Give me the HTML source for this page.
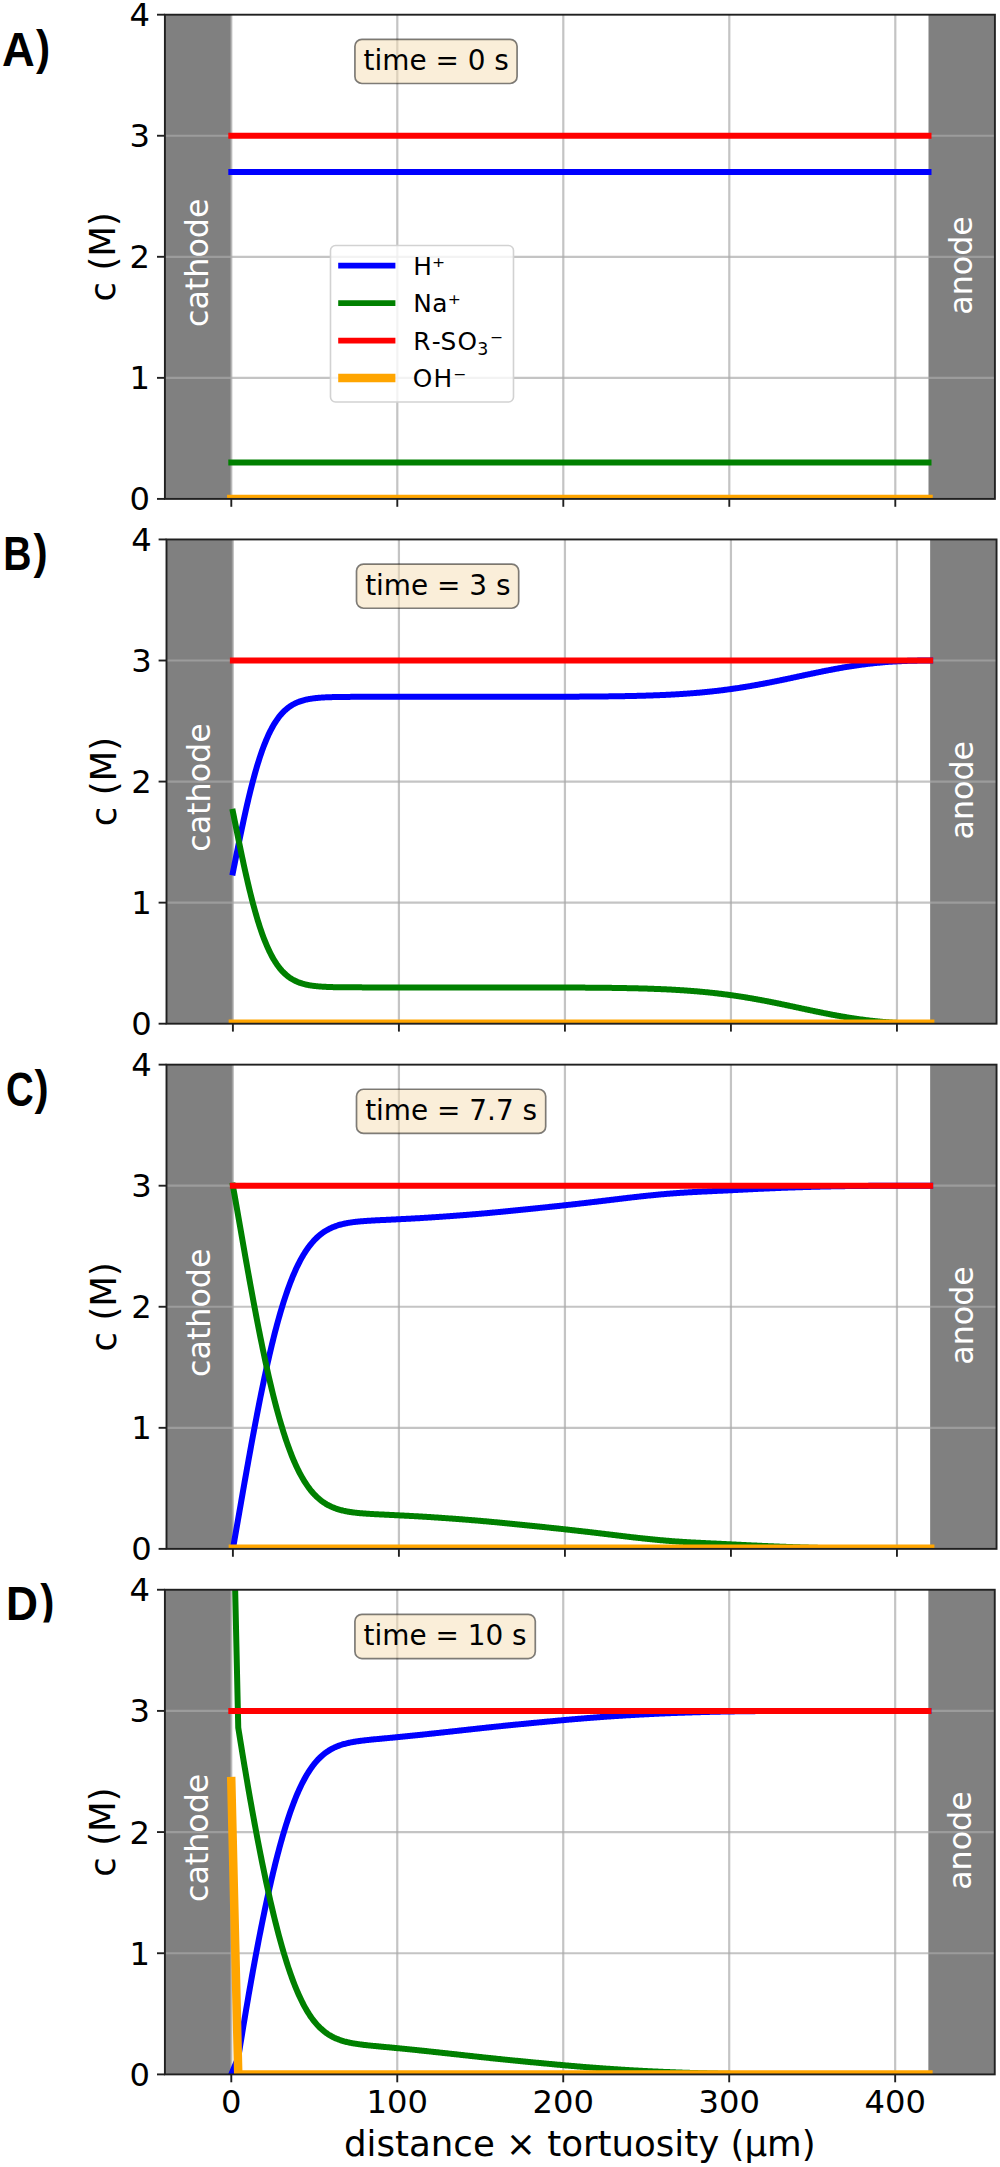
<!DOCTYPE html>
<html><head><meta charset="utf-8"><title>Figure</title>
<style>html,body{margin:0;padding:0;background:#fff}svg{display:block}</style></head>
<body>
<svg width="1000" height="2167" viewBox="0 0 1000 2167" font-family='"DejaVu Sans","Liberation Sans",sans-serif'>
<rect width="1000" height="2167" fill="#fff"/>
<clipPath id="clipD"><rect x="0" y="1560" width="100" height="62.4"/></clipPath>
<clipPath id="clip0"><rect x="164.90" y="14.70" width="830.00" height="484.20"/></clipPath>
<g clip-path="url(#clip0)">
<rect x="164.90" y="14.70" width="66.40" height="484.20" fill="#808080"/>
<rect x="928.50" y="14.70" width="66.40" height="484.20" fill="#808080"/>
<line x1="231.30" x2="231.30" y1="14.70" y2="498.90" stroke="#a9a9a9" stroke-opacity="0.685" stroke-width="2.2"/>
<line x1="397.30" x2="397.30" y1="14.70" y2="498.90" stroke="#a9a9a9" stroke-opacity="0.685" stroke-width="2.2"/>
<line x1="563.30" x2="563.30" y1="14.70" y2="498.90" stroke="#a9a9a9" stroke-opacity="0.685" stroke-width="2.2"/>
<line x1="729.30" x2="729.30" y1="14.70" y2="498.90" stroke="#a9a9a9" stroke-opacity="0.685" stroke-width="2.2"/>
<line x1="895.30" x2="895.30" y1="14.70" y2="498.90" stroke="#a9a9a9" stroke-opacity="0.685" stroke-width="2.2"/>
<line x1="164.90" x2="994.90" y1="377.85" y2="377.85" stroke="#a9a9a9" stroke-opacity="0.685" stroke-width="2.2"/>
<line x1="164.90" x2="994.90" y1="256.80" y2="256.80" stroke="#a9a9a9" stroke-opacity="0.685" stroke-width="2.2"/>
<line x1="164.90" x2="994.90" y1="135.75" y2="135.75" stroke="#a9a9a9" stroke-opacity="0.685" stroke-width="2.2"/>
<path d="M231.30,172.06 L928.50,172.06" fill="none" stroke="#0000ff" stroke-width="6.0" stroke-linecap="square" stroke-linejoin="round"/>
<path d="M231.30,462.58 L928.50,462.58" fill="none" stroke="#008000" stroke-width="6.0" stroke-linecap="square" stroke-linejoin="round"/>
<path d="M231.30,135.75 L928.50,135.75" fill="none" stroke="#ff0000" stroke-width="6.0" stroke-linecap="square" stroke-linejoin="round"/>
<path d="M231.30,498.90 L928.50,498.90" fill="none" stroke="#ffa500" stroke-width="8.5" stroke-linecap="square" stroke-linejoin="round"/>
</g>
<text transform="translate(208.30,262.80) rotate(-90)" text-anchor="middle" font-size="31.7" fill="#fff">cathode</text>
<text transform="translate(971.50,265.50) rotate(-90)" text-anchor="middle" font-size="31.7" fill="#fff">anode</text>
<rect x="164.90" y="14.70" width="830.00" height="484.20" fill="none" stroke="#202020" stroke-width="1.9"/>
<line x1="231.30" x2="231.30" y1="498.90" y2="506.80" stroke="#202020" stroke-width="1.9"/>
<line x1="397.30" x2="397.30" y1="498.90" y2="506.80" stroke="#202020" stroke-width="1.9"/>
<line x1="563.30" x2="563.30" y1="498.90" y2="506.80" stroke="#202020" stroke-width="1.9"/>
<line x1="729.30" x2="729.30" y1="498.90" y2="506.80" stroke="#202020" stroke-width="1.9"/>
<line x1="895.30" x2="895.30" y1="498.90" y2="506.80" stroke="#202020" stroke-width="1.9"/>
<line x1="157.00" x2="164.90" y1="498.90" y2="498.90" stroke="#202020" stroke-width="1.9"/>
<text x="150.10" y="510.40" text-anchor="end" font-size="32.2" fill="#000">0</text>
<line x1="157.00" x2="164.90" y1="377.85" y2="377.85" stroke="#202020" stroke-width="1.9"/>
<text x="150.10" y="389.35" text-anchor="end" font-size="32.2" fill="#000">1</text>
<line x1="157.00" x2="164.90" y1="256.80" y2="256.80" stroke="#202020" stroke-width="1.9"/>
<text x="150.10" y="268.30" text-anchor="end" font-size="32.2" fill="#000">2</text>
<line x1="157.00" x2="164.90" y1="135.75" y2="135.75" stroke="#202020" stroke-width="1.9"/>
<text x="150.10" y="147.25" text-anchor="end" font-size="32.2" fill="#000">3</text>
<line x1="157.00" x2="164.90" y1="14.70" y2="14.70" stroke="#202020" stroke-width="1.9"/>
<text x="150.10" y="26.20" text-anchor="end" font-size="32.2" fill="#000">4</text>
<text transform="translate(114.50,256.80) rotate(-90)" text-anchor="middle" font-size="35.6" fill="#000">c (M)</text>
<g id="tb0"><rect x="354.90" y="39.30" width="162.20" height="44.20" rx="7" ry="7" fill="#f5deb3" fill-opacity="0.5" stroke="#000" stroke-opacity="0.5" stroke-width="1.7"/>
<text x="363.60" y="69.90" font-size="27.9" fill="#000">time = 0 s</text></g>
<g font-family='"Liberation Sans",sans-serif' font-weight="bold" font-size="48.5" fill="#000"><text transform="translate(2.1,66.0) scale(0.935,1)">A</text><text transform="translate(36.0,64.0) scale(0.875,0.985)">)</text></g>
<clipPath id="clip1"><rect x="166.50" y="539.45" width="830.05" height="484.25"/></clipPath>
<g clip-path="url(#clip1)">
<rect x="166.50" y="539.45" width="66.40" height="484.25" fill="#808080"/>
<rect x="930.15" y="539.45" width="66.40" height="484.25" fill="#808080"/>
<line x1="232.90" x2="232.90" y1="539.45" y2="1023.70" stroke="#a9a9a9" stroke-opacity="0.685" stroke-width="2.2"/>
<line x1="398.91" x2="398.91" y1="539.45" y2="1023.70" stroke="#a9a9a9" stroke-opacity="0.685" stroke-width="2.2"/>
<line x1="564.92" x2="564.92" y1="539.45" y2="1023.70" stroke="#a9a9a9" stroke-opacity="0.685" stroke-width="2.2"/>
<line x1="730.93" x2="730.93" y1="539.45" y2="1023.70" stroke="#a9a9a9" stroke-opacity="0.685" stroke-width="2.2"/>
<line x1="896.94" x2="896.94" y1="539.45" y2="1023.70" stroke="#a9a9a9" stroke-opacity="0.685" stroke-width="2.2"/>
<line x1="166.50" x2="996.55" y1="902.64" y2="902.64" stroke="#a9a9a9" stroke-opacity="0.685" stroke-width="2.2"/>
<line x1="166.50" x2="996.55" y1="781.58" y2="781.58" stroke="#a9a9a9" stroke-opacity="0.685" stroke-width="2.2"/>
<line x1="166.50" x2="996.55" y1="660.51" y2="660.51" stroke="#a9a9a9" stroke-opacity="0.685" stroke-width="2.2"/>
<path d="M232.90,872.36 L233.73,868.26 L234.56,864.14 L235.39,860.03 L236.22,855.92 L237.05,851.82 L237.88,847.74 L238.71,843.67 L239.54,839.63 L240.37,835.62 L241.20,831.64 L242.03,827.70 L242.86,823.80 L243.69,819.95 L244.52,816.14 L245.35,812.38 L246.18,808.68 L247.01,805.03 L247.84,801.45 L248.67,797.92 L249.50,794.46 L250.34,791.07 L251.17,787.74 L252.00,784.48 L252.83,781.30 L253.66,778.18 L254.49,775.14 L255.32,772.16 L256.15,769.27 L256.98,766.44 L257.81,763.69 L258.64,761.02 L259.47,758.42 L260.30,755.89 L261.13,753.44 L261.96,751.06 L262.79,748.76 L263.62,746.52 L264.45,744.36 L265.28,742.27 L266.11,740.25 L266.94,738.30 L267.77,736.42 L268.60,734.60 L269.43,732.85 L270.26,731.16 L271.09,729.54 L271.92,727.98 L272.75,726.47 L273.58,725.03 L274.41,723.64 L275.24,722.31 L276.07,721.04 L276.90,719.82 L277.73,718.65 L278.56,717.53 L279.39,716.45 L280.22,715.43 L281.05,714.45 L281.88,713.51 L282.71,712.62 L283.54,711.77 L284.37,710.96 L285.20,710.18 L286.03,709.44 L286.86,708.74 L287.69,708.07 L288.52,707.44 L289.35,706.84 L290.18,706.26 L291.01,705.72 L291.84,705.20 L292.67,704.71 L293.50,704.25 L294.33,703.81 L295.16,703.39 L295.99,703.00 L296.82,702.63 L297.65,702.28 L298.48,701.94 L299.31,701.63 L300.14,701.33 L300.97,701.05 L301.80,700.79 L302.63,700.54 L303.46,700.30 L304.29,700.08 L305.12,699.87 L305.95,699.68 L306.78,699.49 L307.61,699.32 L308.44,699.16 L309.27,699.00 L310.10,698.86 L310.93,698.72 L311.76,698.60 L312.59,698.48 L313.42,698.37 L314.25,698.26 L315.08,698.16 L315.91,698.07 L316.74,697.99 L317.57,697.91 L318.40,697.83 L319.23,697.76 L320.06,697.70 L320.89,697.63 L321.72,697.58 L322.55,697.52 L323.38,697.47 L324.21,697.43 L325.04,697.38 L325.87,697.34 L326.70,697.31 L327.53,697.27 L328.36,697.24 L329.19,697.21 L330.02,697.18 L330.85,697.15 L331.68,697.13 L332.51,697.11 L333.34,697.09 L334.17,697.07 L335.00,697.05 L335.83,697.03 L336.66,697.02 L337.49,697.00 L338.32,696.99 L339.15,696.97 L339.98,696.96 L340.81,696.95 L341.64,696.94 L342.47,696.93 L343.30,696.92 L344.13,696.92 L344.96,696.91 L345.79,696.90 L346.62,696.90 L347.45,696.89 L348.28,696.89 L349.11,696.88 L349.94,696.88 L350.77,696.87 L351.60,696.87 L352.43,696.86 L353.26,696.86 L354.09,696.86 L354.92,696.85 L355.75,696.85 L356.58,696.85 L357.41,696.85 L358.24,696.85 L359.07,696.84 L359.90,696.84 L360.73,696.84 L361.56,696.84 L362.39,696.84 L363.22,696.84 L364.05,696.83 L364.88,696.83 L365.71,696.83 L366.54,696.83 L367.37,696.83 L368.20,696.83 L369.03,696.83 L369.86,696.83 L370.69,696.83 L371.52,696.83 L372.35,696.83 L373.18,696.83 L374.01,696.83 L374.84,696.83 L375.67,696.83 L376.50,696.83 L377.33,696.83 L378.16,696.83 L378.99,696.82 L379.82,696.82 L380.65,696.82 L381.48,696.82 L382.31,696.82 L383.14,696.82 L383.97,696.82 L384.80,696.82 L385.63,696.82 L386.46,696.82 L387.29,696.82 L388.12,696.82 L388.95,696.82 L389.78,696.82 L390.61,696.82 L391.44,696.82 L392.27,696.82 L393.10,696.82 L393.93,696.82 L394.76,696.82 L395.59,696.82 L396.42,696.82 L397.25,696.82 L398.08,696.82 L398.91,696.82 L399.74,696.82 L400.57,696.82 L401.40,696.82 L402.23,696.82 L403.06,696.82 L403.89,696.82 L404.72,696.82 L405.55,696.82 L406.38,696.82 L407.21,696.82 L408.04,696.82 L408.87,696.82 L409.70,696.82 L410.53,696.82 L411.36,696.82 L412.19,696.82 L413.02,696.82 L413.85,696.82 L414.68,696.82 L415.51,696.82 L416.35,696.82 L417.18,696.82 L418.01,696.82 L418.84,696.82 L419.67,696.82 L420.50,696.82 L421.33,696.82 L422.16,696.82 L422.99,696.82 L423.82,696.82 L424.65,696.82 L425.48,696.82 L426.31,696.82 L427.14,696.82 L427.97,696.82 L428.80,696.82 L429.63,696.82 L430.46,696.82 L431.29,696.82 L432.12,696.82 L432.95,696.82 L433.78,696.82 L434.61,696.82 L435.44,696.82 L436.27,696.82 L437.10,696.82 L437.93,696.82 L438.76,696.82 L439.59,696.82 L440.42,696.82 L441.25,696.82 L442.08,696.82 L442.91,696.82 L443.74,696.82 L444.57,696.82 L445.40,696.82 L446.23,696.82 L447.06,696.82 L447.89,696.82 L448.72,696.82 L449.55,696.82 L450.38,696.82 L451.21,696.82 L452.04,696.82 L452.87,696.82 L453.70,696.82 L454.53,696.82 L455.36,696.82 L456.19,696.82 L457.02,696.82 L457.85,696.82 L458.68,696.82 L459.51,696.82 L460.34,696.82 L461.17,696.82 L462.00,696.82 L462.83,696.82 L463.66,696.82 L464.49,696.82 L465.32,696.82 L466.15,696.82 L466.98,696.82 L467.81,696.82 L468.64,696.82 L469.47,696.82 L470.30,696.81 L471.13,696.81 L471.96,696.81 L472.79,696.81 L473.62,696.81 L474.45,696.81 L475.28,696.81 L476.11,696.81 L476.94,696.81 L477.77,696.81 L478.60,696.81 L479.43,696.81 L480.26,696.81 L481.09,696.81 L481.92,696.81 L482.75,696.81 L483.58,696.81 L484.41,696.81 L485.24,696.81 L486.07,696.81 L486.90,696.81 L487.73,696.81 L488.56,696.81 L489.39,696.81 L490.22,696.81 L491.05,696.81 L491.88,696.81 L492.71,696.81 L493.54,696.81 L494.37,696.81 L495.20,696.81 L496.03,696.80 L496.86,696.80 L497.69,696.80 L498.52,696.80 L499.35,696.80 L500.18,696.80 L501.01,696.80 L501.84,696.80 L502.67,696.80 L503.50,696.80 L504.33,696.80 L505.16,696.80 L505.99,696.80 L506.82,696.80 L507.65,696.80 L508.48,696.80 L509.31,696.80 L510.14,696.80 L510.97,696.79 L511.80,696.79 L512.63,696.79 L513.46,696.79 L514.29,696.79 L515.12,696.79 L515.95,696.79 L516.78,696.79 L517.61,696.79 L518.44,696.79 L519.27,696.79 L520.10,696.79 L520.93,696.79 L521.76,696.78 L522.59,696.78 L523.42,696.78 L524.25,696.78 L525.08,696.78 L525.91,696.78 L526.74,696.78 L527.57,696.78 L528.40,696.78 L529.23,696.78 L530.06,696.77 L530.89,696.77 L531.72,696.77 L532.55,696.77 L533.38,696.77 L534.21,696.77 L535.04,696.77 L535.87,696.76 L536.70,696.76 L537.53,696.76 L538.36,696.76 L539.19,696.76 L540.02,696.76 L540.85,696.76 L541.68,696.75 L542.51,696.75 L543.34,696.75 L544.17,696.75 L545.00,696.75 L545.83,696.75 L546.66,696.74 L547.49,696.74 L548.32,696.74 L549.15,696.74 L549.98,696.74 L550.81,696.73 L551.64,696.73 L552.47,696.73 L553.30,696.73 L554.13,696.73 L554.96,696.72 L555.79,696.72 L556.62,696.72 L557.45,696.72 L558.28,696.71 L559.11,696.71 L559.94,696.71 L560.77,696.71 L561.60,696.70 L562.43,696.70 L563.26,696.70 L564.09,696.69 L564.92,696.69 L565.75,696.69 L566.58,696.68 L567.41,696.68 L568.24,696.68 L569.07,696.67 L569.90,696.67 L570.73,696.67 L571.56,696.66 L572.39,696.66 L573.22,696.66 L574.05,696.65 L574.88,696.65 L575.71,696.64 L576.54,696.64 L577.37,696.63 L578.20,696.63 L579.03,696.63 L579.86,696.62 L580.69,696.62 L581.52,696.61 L582.36,696.61 L583.19,696.60 L584.02,696.60 L584.85,696.59 L585.68,696.59 L586.51,696.58 L587.34,696.57 L588.17,696.57 L589.00,696.56 L589.83,696.56 L590.66,696.55 L591.49,696.54 L592.32,696.54 L593.15,696.53 L593.98,696.52 L594.81,696.52 L595.64,696.51 L596.47,696.50 L597.30,696.50 L598.13,696.49 L598.96,696.48 L599.79,696.47 L600.62,696.46 L601.45,696.46 L602.28,696.45 L603.11,696.44 L603.94,696.43 L604.77,696.42 L605.60,696.41 L606.43,696.40 L607.26,696.39 L608.09,696.38 L608.92,696.37 L609.75,696.36 L610.58,696.35 L611.41,696.34 L612.24,696.33 L613.07,696.32 L613.90,696.31 L614.73,696.30 L615.56,696.28 L616.39,696.27 L617.22,696.26 L618.05,696.25 L618.88,696.23 L619.71,696.22 L620.54,696.21 L621.37,696.19 L622.20,696.18 L623.03,696.16 L623.86,696.15 L624.69,696.13 L625.52,696.12 L626.35,696.10 L627.18,696.09 L628.01,696.07 L628.84,696.05 L629.67,696.04 L630.50,696.02 L631.33,696.00 L632.16,695.98 L632.99,695.97 L633.82,695.95 L634.65,695.93 L635.48,695.91 L636.31,695.89 L637.14,695.87 L637.97,695.85 L638.80,695.83 L639.63,695.80 L640.46,695.78 L641.29,695.76 L642.12,695.74 L642.95,695.71 L643.78,695.69 L644.61,695.67 L645.44,695.64 L646.27,695.62 L647.10,695.59 L647.93,695.56 L648.76,695.54 L649.59,695.51 L650.42,695.48 L651.25,695.45 L652.08,695.43 L652.91,695.40 L653.74,695.37 L654.57,695.34 L655.40,695.30 L656.23,695.27 L657.06,695.24 L657.89,695.21 L658.72,695.17 L659.55,695.14 L660.38,695.11 L661.21,695.07 L662.04,695.04 L662.87,695.00 L663.70,694.96 L664.53,694.92 L665.36,694.89 L666.19,694.85 L667.02,694.81 L667.85,694.77 L668.68,694.73 L669.51,694.68 L670.34,694.64 L671.17,694.60 L672.00,694.55 L672.83,694.51 L673.66,694.46 L674.49,694.42 L675.32,694.37 L676.15,694.32 L676.98,694.28 L677.81,694.23 L678.64,694.18 L679.47,694.12 L680.30,694.07 L681.13,694.02 L681.96,693.97 L682.79,693.91 L683.62,693.86 L684.45,693.80 L685.28,693.74 L686.11,693.69 L686.94,693.63 L687.77,693.57 L688.60,693.51 L689.43,693.45 L690.26,693.38 L691.09,693.32 L691.92,693.26 L692.75,693.19 L693.58,693.13 L694.41,693.06 L695.24,692.99 L696.07,692.92 L696.90,692.85 L697.73,692.78 L698.56,692.71 L699.39,692.64 L700.22,692.56 L701.05,692.49 L701.88,692.41 L702.71,692.33 L703.54,692.26 L704.37,692.18 L705.20,692.10 L706.03,692.01 L706.86,691.93 L707.69,691.85 L708.52,691.76 L709.35,691.68 L710.18,691.59 L711.01,691.50 L711.84,691.42 L712.67,691.33 L713.50,691.23 L714.33,691.14 L715.16,691.05 L715.99,690.95 L716.82,690.86 L717.65,690.76 L718.48,690.66 L719.31,690.56 L720.14,690.46 L720.97,690.36 L721.80,690.26 L722.63,690.16 L723.46,690.05 L724.29,689.95 L725.12,689.84 L725.95,689.73 L726.78,689.62 L727.61,689.51 L728.44,689.40 L729.27,689.29 L730.10,689.17 L730.93,689.06 L731.76,688.94 L732.59,688.82 L733.42,688.70 L734.25,688.58 L735.08,688.46 L735.91,688.34 L736.74,688.22 L737.57,688.09 L738.40,687.97 L739.23,687.84 L740.06,687.71 L740.89,687.58 L741.72,687.45 L742.55,687.32 L743.38,687.19 L744.21,687.06 L745.04,686.92 L745.87,686.79 L746.70,686.65 L747.53,686.51 L748.37,686.37 L749.20,686.23 L750.03,686.09 L750.86,685.95 L751.69,685.81 L752.52,685.66 L753.35,685.52 L754.18,685.37 L755.01,685.22 L755.84,685.07 L756.67,684.93 L757.50,684.78 L758.33,684.62 L759.16,684.47 L759.99,684.32 L760.82,684.16 L761.65,684.01 L762.48,683.85 L763.31,683.70 L764.14,683.54 L764.97,683.38 L765.80,683.22 L766.63,683.06 L767.46,682.90 L768.29,682.74 L769.12,682.58 L769.95,682.41 L770.78,682.25 L771.61,682.08 L772.44,681.92 L773.27,681.75 L774.10,681.59 L774.93,681.42 L775.76,681.25 L776.59,681.08 L777.42,680.91 L778.25,680.74 L779.08,680.57 L779.91,680.40 L780.74,680.23 L781.57,680.06 L782.40,679.88 L783.23,679.71 L784.06,679.54 L784.89,679.36 L785.72,679.19 L786.55,679.01 L787.38,678.84 L788.21,678.66 L789.04,678.49 L789.87,678.31 L790.70,678.13 L791.53,677.96 L792.36,677.78 L793.19,677.60 L794.02,677.43 L794.85,677.25 L795.68,677.07 L796.51,676.89 L797.34,676.72 L798.17,676.54 L799.00,676.36 L799.83,676.18 L800.66,676.01 L801.49,675.83 L802.32,675.65 L803.15,675.47 L803.98,675.30 L804.81,675.12 L805.64,674.94 L806.47,674.77 L807.30,674.59 L808.13,674.41 L808.96,674.24 L809.79,674.06 L810.62,673.89 L811.45,673.71 L812.28,673.54 L813.11,673.36 L813.94,673.19 L814.77,673.01 L815.60,672.84 L816.43,672.67 L817.26,672.50 L818.09,672.33 L818.92,672.16 L819.75,671.99 L820.58,671.82 L821.41,671.65 L822.24,671.48 L823.07,671.31 L823.90,671.15 L824.73,670.98 L825.56,670.81 L826.39,670.65 L827.22,670.49 L828.05,670.32 L828.88,670.16 L829.71,670.00 L830.54,669.84 L831.37,669.68 L832.20,669.52 L833.03,669.37 L833.86,669.21 L834.69,669.06 L835.52,668.90 L836.35,668.75 L837.18,668.60 L838.01,668.45 L838.84,668.30 L839.67,668.15 L840.50,668.00 L841.33,667.85 L842.16,667.71 L842.99,667.57 L843.82,667.42 L844.65,667.28 L845.48,667.14 L846.31,667.00 L847.14,666.87 L847.97,666.73 L848.80,666.59 L849.63,666.46 L850.46,666.33 L851.29,666.20 L852.12,666.07 L852.95,665.94 L853.78,665.81 L854.61,665.69 L855.44,665.57 L856.27,665.44 L857.10,665.32 L857.93,665.20 L858.76,665.09 L859.59,664.97 L860.42,664.85 L861.25,664.74 L862.08,664.63 L862.91,664.52 L863.74,664.41 L864.57,664.30 L865.40,664.20 L866.23,664.09 L867.06,663.99 L867.89,663.89 L868.72,663.79 L869.55,663.69 L870.38,663.59 L871.21,663.50 L872.04,663.41 L872.87,663.32 L873.70,663.23 L874.53,663.14 L875.36,663.05 L876.19,662.96 L877.02,662.88 L877.85,662.80 L878.68,662.72 L879.51,662.64 L880.34,662.56 L881.17,662.49 L882.00,662.41 L882.83,662.34 L883.66,662.27 L884.49,662.20 L885.32,662.13 L886.15,662.07 L886.98,662.00 L887.81,661.94 L888.64,661.88 L889.47,661.82 L890.30,661.76 L891.13,661.70 L891.96,661.64 L892.79,661.59 L893.62,661.54 L894.45,661.49 L895.28,661.44 L896.11,661.39 L896.94,661.34 L897.77,661.30 L898.60,661.25 L899.43,661.21 L900.26,661.17 L901.09,661.13 L901.92,661.09 L902.75,661.05 L903.58,661.02 L904.41,660.99 L905.24,660.95 L906.07,660.92 L906.90,660.89 L907.73,660.86 L908.56,660.83 L909.39,660.81 L910.22,660.78 L911.05,660.76 L911.88,660.74 L912.71,660.72 L913.54,660.70 L914.38,660.68 L915.21,660.66 L916.04,660.64 L916.87,660.63 L917.70,660.61 L918.53,660.60 L919.36,660.59 L920.19,660.57 L921.02,660.56 L921.85,660.55 L922.68,660.55 L923.51,660.54 L924.34,660.53 L925.17,660.53 L926.00,660.52 L926.83,660.52 L927.66,660.52 L928.49,660.51 L929.32,660.51 L930.15,660.51" fill="none" stroke="#0000ff" stroke-width="6.0" stroke-linecap="square" stroke-linejoin="round"/>
<path d="M232.90,811.85 L233.73,815.96 L234.56,820.07 L235.39,824.18 L236.22,828.29 L237.05,832.39 L237.88,836.48 L238.71,840.54 L239.54,844.58 L240.37,848.59 L241.20,852.57 L242.03,856.51 L242.86,860.41 L243.69,864.27 L244.52,868.07 L245.35,871.83 L246.18,875.53 L247.01,879.18 L247.84,882.76 L248.67,886.29 L249.50,889.75 L250.34,893.14 L251.17,896.47 L252.00,899.73 L252.83,902.92 L253.66,906.03 L254.49,909.08 L255.32,912.05 L256.15,914.95 L256.98,917.77 L257.81,920.52 L258.64,923.19 L259.47,925.79 L260.30,928.32 L261.13,930.77 L261.96,933.15 L262.79,935.46 L263.62,937.69 L264.45,939.85 L265.28,941.94 L266.11,943.96 L266.94,945.91 L267.77,947.80 L268.60,949.61 L269.43,951.36 L270.26,953.05 L271.09,954.67 L271.92,956.24 L272.75,957.74 L273.58,959.18 L274.41,960.57 L275.24,961.90 L276.07,963.17 L276.90,964.40 L277.73,965.57 L278.56,966.69 L279.39,967.76 L280.22,968.78 L281.05,969.76 L281.88,970.70 L282.71,971.59 L283.54,972.44 L284.37,973.26 L285.20,974.03 L286.03,974.77 L286.86,975.47 L287.69,976.14 L288.52,976.77 L289.35,977.38 L290.18,977.95 L291.01,978.49 L291.84,979.01 L292.67,979.50 L293.50,979.96 L294.33,980.40 L295.16,980.82 L295.99,981.21 L296.82,981.58 L297.65,981.94 L298.48,982.27 L299.31,982.58 L300.14,982.88 L300.97,983.16 L301.80,983.43 L302.63,983.68 L303.46,983.91 L304.29,984.13 L305.12,984.34 L305.95,984.54 L306.78,984.72 L307.61,984.89 L308.44,985.06 L309.27,985.21 L310.10,985.35 L310.93,985.49 L311.76,985.62 L312.59,985.73 L313.42,985.85 L314.25,985.95 L315.08,986.05 L315.91,986.14 L316.74,986.23 L317.57,986.31 L318.40,986.38 L319.23,986.45 L320.06,986.52 L320.89,986.58 L321.72,986.63 L322.55,986.69 L323.38,986.74 L324.21,986.78 L325.04,986.83 L325.87,986.87 L326.70,986.91 L327.53,986.94 L328.36,986.97 L329.19,987.00 L330.02,987.03 L330.85,987.06 L331.68,987.08 L332.51,987.11 L333.34,987.13 L334.17,987.15 L335.00,987.16 L335.83,987.18 L336.66,987.20 L337.49,987.21 L338.32,987.23 L339.15,987.24 L339.98,987.25 L340.81,987.26 L341.64,987.27 L342.47,987.28 L343.30,987.29 L344.13,987.30 L344.96,987.30 L345.79,987.31 L346.62,987.32 L347.45,987.32 L348.28,987.33 L349.11,987.33 L349.94,987.34 L350.77,987.34 L351.60,987.35 L352.43,987.35 L353.26,987.35 L354.09,987.36 L354.92,987.36 L355.75,987.36 L356.58,987.36 L357.41,987.37 L358.24,987.37 L359.07,987.37 L359.90,987.37 L360.73,987.37 L361.56,987.37 L362.39,987.38 L363.22,987.38 L364.05,987.38 L364.88,987.38 L365.71,987.38 L366.54,987.38 L367.37,987.38 L368.20,987.38 L369.03,987.38 L369.86,987.38 L370.69,987.38 L371.52,987.38 L372.35,987.38 L373.18,987.39 L374.01,987.39 L374.84,987.39 L375.67,987.39 L376.50,987.39 L377.33,987.39 L378.16,987.39 L378.99,987.39 L379.82,987.39 L380.65,987.39 L381.48,987.39 L382.31,987.39 L383.14,987.39 L383.97,987.39 L384.80,987.39 L385.63,987.39 L386.46,987.39 L387.29,987.39 L388.12,987.39 L388.95,987.39 L389.78,987.39 L390.61,987.39 L391.44,987.39 L392.27,987.39 L393.10,987.39 L393.93,987.39 L394.76,987.39 L395.59,987.39 L396.42,987.39 L397.25,987.39 L398.08,987.39 L398.91,987.39 L399.74,987.39 L400.57,987.39 L401.40,987.39 L402.23,987.39 L403.06,987.39 L403.89,987.39 L404.72,987.39 L405.55,987.39 L406.38,987.39 L407.21,987.39 L408.04,987.39 L408.87,987.39 L409.70,987.39 L410.53,987.39 L411.36,987.39 L412.19,987.39 L413.02,987.39 L413.85,987.39 L414.68,987.39 L415.51,987.39 L416.35,987.39 L417.18,987.39 L418.01,987.39 L418.84,987.39 L419.67,987.39 L420.50,987.39 L421.33,987.39 L422.16,987.39 L422.99,987.39 L423.82,987.39 L424.65,987.39 L425.48,987.39 L426.31,987.39 L427.14,987.39 L427.97,987.39 L428.80,987.39 L429.63,987.39 L430.46,987.39 L431.29,987.39 L432.12,987.39 L432.95,987.39 L433.78,987.39 L434.61,987.39 L435.44,987.39 L436.27,987.39 L437.10,987.39 L437.93,987.39 L438.76,987.39 L439.59,987.39 L440.42,987.39 L441.25,987.39 L442.08,987.39 L442.91,987.39 L443.74,987.39 L444.57,987.39 L445.40,987.39 L446.23,987.39 L447.06,987.39 L447.89,987.39 L448.72,987.39 L449.55,987.39 L450.38,987.39 L451.21,987.39 L452.04,987.39 L452.87,987.39 L453.70,987.39 L454.53,987.39 L455.36,987.39 L456.19,987.39 L457.02,987.39 L457.85,987.39 L458.68,987.39 L459.51,987.40 L460.34,987.40 L461.17,987.40 L462.00,987.40 L462.83,987.40 L463.66,987.40 L464.49,987.40 L465.32,987.40 L466.15,987.40 L466.98,987.40 L467.81,987.40 L468.64,987.40 L469.47,987.40 L470.30,987.40 L471.13,987.40 L471.96,987.40 L472.79,987.40 L473.62,987.40 L474.45,987.40 L475.28,987.40 L476.11,987.40 L476.94,987.40 L477.77,987.40 L478.60,987.40 L479.43,987.40 L480.26,987.40 L481.09,987.40 L481.92,987.40 L482.75,987.40 L483.58,987.40 L484.41,987.40 L485.24,987.40 L486.07,987.40 L486.90,987.40 L487.73,987.40 L488.56,987.40 L489.39,987.40 L490.22,987.40 L491.05,987.41 L491.88,987.41 L492.71,987.41 L493.54,987.41 L494.37,987.41 L495.20,987.41 L496.03,987.41 L496.86,987.41 L497.69,987.41 L498.52,987.41 L499.35,987.41 L500.18,987.41 L501.01,987.41 L501.84,987.41 L502.67,987.41 L503.50,987.41 L504.33,987.41 L505.16,987.41 L505.99,987.41 L506.82,987.41 L507.65,987.42 L508.48,987.42 L509.31,987.42 L510.14,987.42 L510.97,987.42 L511.80,987.42 L512.63,987.42 L513.46,987.42 L514.29,987.42 L515.12,987.42 L515.95,987.42 L516.78,987.42 L517.61,987.42 L518.44,987.42 L519.27,987.43 L520.10,987.43 L520.93,987.43 L521.76,987.43 L522.59,987.43 L523.42,987.43 L524.25,987.43 L525.08,987.43 L525.91,987.43 L526.74,987.43 L527.57,987.44 L528.40,987.44 L529.23,987.44 L530.06,987.44 L530.89,987.44 L531.72,987.44 L532.55,987.44 L533.38,987.44 L534.21,987.44 L535.04,987.45 L535.87,987.45 L536.70,987.45 L537.53,987.45 L538.36,987.45 L539.19,987.45 L540.02,987.45 L540.85,987.46 L541.68,987.46 L542.51,987.46 L543.34,987.46 L544.17,987.46 L545.00,987.46 L545.83,987.47 L546.66,987.47 L547.49,987.47 L548.32,987.47 L549.15,987.47 L549.98,987.48 L550.81,987.48 L551.64,987.48 L552.47,987.48 L553.30,987.48 L554.13,987.49 L554.96,987.49 L555.79,987.49 L556.62,987.49 L557.45,987.50 L558.28,987.50 L559.11,987.50 L559.94,987.50 L560.77,987.51 L561.60,987.51 L562.43,987.51 L563.26,987.52 L564.09,987.52 L564.92,987.52 L565.75,987.53 L566.58,987.53 L567.41,987.53 L568.24,987.53 L569.07,987.54 L569.90,987.54 L570.73,987.55 L571.56,987.55 L572.39,987.55 L573.22,987.56 L574.05,987.56 L574.88,987.56 L575.71,987.57 L576.54,987.57 L577.37,987.58 L578.20,987.58 L579.03,987.59 L579.86,987.59 L580.69,987.60 L581.52,987.60 L582.36,987.61 L583.19,987.61 L584.02,987.62 L584.85,987.62 L585.68,987.63 L586.51,987.63 L587.34,987.64 L588.17,987.64 L589.00,987.65 L589.83,987.66 L590.66,987.66 L591.49,987.67 L592.32,987.67 L593.15,987.68 L593.98,987.69 L594.81,987.70 L595.64,987.70 L596.47,987.71 L597.30,987.72 L598.13,987.72 L598.96,987.73 L599.79,987.74 L600.62,987.75 L601.45,987.76 L602.28,987.77 L603.11,987.77 L603.94,987.78 L604.77,987.79 L605.60,987.80 L606.43,987.81 L607.26,987.82 L608.09,987.83 L608.92,987.84 L609.75,987.85 L610.58,987.86 L611.41,987.87 L612.24,987.88 L613.07,987.89 L613.90,987.91 L614.73,987.92 L615.56,987.93 L616.39,987.94 L617.22,987.95 L618.05,987.97 L618.88,987.98 L619.71,987.99 L620.54,988.01 L621.37,988.02 L622.20,988.03 L623.03,988.05 L623.86,988.06 L624.69,988.08 L625.52,988.09 L626.35,988.11 L627.18,988.13 L628.01,988.14 L628.84,988.16 L629.67,988.18 L630.50,988.19 L631.33,988.21 L632.16,988.23 L632.99,988.25 L633.82,988.27 L634.65,988.28 L635.48,988.30 L636.31,988.32 L637.14,988.34 L637.97,988.37 L638.80,988.39 L639.63,988.41 L640.46,988.43 L641.29,988.45 L642.12,988.48 L642.95,988.50 L643.78,988.52 L644.61,988.55 L645.44,988.57 L646.27,988.60 L647.10,988.62 L647.93,988.65 L648.76,988.68 L649.59,988.70 L650.42,988.73 L651.25,988.76 L652.08,988.79 L652.91,988.82 L653.74,988.85 L654.57,988.88 L655.40,988.91 L656.23,988.94 L657.06,988.97 L657.89,989.00 L658.72,989.04 L659.55,989.07 L660.38,989.11 L661.21,989.14 L662.04,989.18 L662.87,989.21 L663.70,989.25 L664.53,989.29 L665.36,989.33 L666.19,989.37 L667.02,989.40 L667.85,989.45 L668.68,989.49 L669.51,989.53 L670.34,989.57 L671.17,989.61 L672.00,989.66 L672.83,989.70 L673.66,989.75 L674.49,989.79 L675.32,989.84 L676.15,989.89 L676.98,989.94 L677.81,989.99 L678.64,990.04 L679.47,990.09 L680.30,990.14 L681.13,990.19 L681.96,990.25 L682.79,990.30 L683.62,990.36 L684.45,990.41 L685.28,990.47 L686.11,990.53 L686.94,990.58 L687.77,990.64 L688.60,990.70 L689.43,990.77 L690.26,990.83 L691.09,990.89 L691.92,990.96 L692.75,991.02 L693.58,991.09 L694.41,991.15 L695.24,991.22 L696.07,991.29 L696.90,991.36 L697.73,991.43 L698.56,991.50 L699.39,991.58 L700.22,991.65 L701.05,991.73 L701.88,991.80 L702.71,991.88 L703.54,991.96 L704.37,992.04 L705.20,992.12 L706.03,992.20 L706.86,992.28 L707.69,992.36 L708.52,992.45 L709.35,992.53 L710.18,992.62 L711.01,992.71 L711.84,992.80 L712.67,992.89 L713.50,992.98 L714.33,993.07 L715.16,993.16 L715.99,993.26 L716.82,993.35 L717.65,993.45 L718.48,993.55 L719.31,993.65 L720.14,993.75 L720.97,993.85 L721.80,993.95 L722.63,994.06 L723.46,994.16 L724.29,994.27 L725.12,994.37 L725.95,994.48 L726.78,994.59 L727.61,994.70 L728.44,994.81 L729.27,994.93 L730.10,995.04 L730.93,995.16 L731.76,995.27 L732.59,995.39 L733.42,995.51 L734.25,995.63 L735.08,995.75 L735.91,995.87 L736.74,995.99 L737.57,996.12 L738.40,996.24 L739.23,996.37 L740.06,996.50 L740.89,996.63 L741.72,996.76 L742.55,996.89 L743.38,997.02 L744.21,997.16 L745.04,997.29 L745.87,997.43 L746.70,997.56 L747.53,997.70 L748.37,997.84 L749.20,997.98 L750.03,998.12 L750.86,998.26 L751.69,998.41 L752.52,998.55 L753.35,998.70 L754.18,998.84 L755.01,998.99 L755.84,999.14 L756.67,999.29 L757.50,999.44 L758.33,999.59 L759.16,999.74 L759.99,999.89 L760.82,1000.05 L761.65,1000.20 L762.48,1000.36 L763.31,1000.52 L764.14,1000.67 L764.97,1000.83 L765.80,1000.99 L766.63,1001.15 L767.46,1001.31 L768.29,1001.47 L769.12,1001.64 L769.95,1001.80 L770.78,1001.96 L771.61,1002.13 L772.44,1002.29 L773.27,1002.46 L774.10,1002.63 L774.93,1002.80 L775.76,1002.96 L776.59,1003.13 L777.42,1003.30 L778.25,1003.47 L779.08,1003.64 L779.91,1003.81 L780.74,1003.99 L781.57,1004.16 L782.40,1004.33 L783.23,1004.50 L784.06,1004.68 L784.89,1004.85 L785.72,1005.03 L786.55,1005.20 L787.38,1005.38 L788.21,1005.55 L789.04,1005.73 L789.87,1005.90 L790.70,1006.08 L791.53,1006.26 L792.36,1006.43 L793.19,1006.61 L794.02,1006.79 L794.85,1006.96 L795.68,1007.14 L796.51,1007.32 L797.34,1007.50 L798.17,1007.67 L799.00,1007.85 L799.83,1008.03 L800.66,1008.21 L801.49,1008.38 L802.32,1008.56 L803.15,1008.74 L803.98,1008.92 L804.81,1009.09 L805.64,1009.27 L806.47,1009.45 L807.30,1009.62 L808.13,1009.80 L808.96,1009.98 L809.79,1010.15 L810.62,1010.33 L811.45,1010.50 L812.28,1010.68 L813.11,1010.85 L813.94,1011.02 L814.77,1011.20 L815.60,1011.37 L816.43,1011.54 L817.26,1011.71 L818.09,1011.89 L818.92,1012.06 L819.75,1012.23 L820.58,1012.40 L821.41,1012.56 L822.24,1012.73 L823.07,1012.90 L823.90,1013.07 L824.73,1013.23 L825.56,1013.40 L826.39,1013.56 L827.22,1013.73 L828.05,1013.89 L828.88,1014.05 L829.71,1014.21 L830.54,1014.37 L831.37,1014.53 L832.20,1014.69 L833.03,1014.85 L833.86,1015.00 L834.69,1015.16 L835.52,1015.31 L836.35,1015.46 L837.18,1015.62 L838.01,1015.77 L838.84,1015.92 L839.67,1016.06 L840.50,1016.21 L841.33,1016.36 L842.16,1016.50 L842.99,1016.65 L843.82,1016.79 L844.65,1016.93 L845.48,1017.07 L846.31,1017.21 L847.14,1017.35 L847.97,1017.48 L848.80,1017.62 L849.63,1017.75 L850.46,1017.88 L851.29,1018.01 L852.12,1018.14 L852.95,1018.27 L853.78,1018.40 L854.61,1018.52 L855.44,1018.65 L856.27,1018.77 L857.10,1018.89 L857.93,1019.01 L858.76,1019.13 L859.59,1019.24 L860.42,1019.36 L861.25,1019.47 L862.08,1019.58 L862.91,1019.69 L863.74,1019.80 L864.57,1019.91 L865.40,1020.02 L866.23,1020.12 L867.06,1020.22 L867.89,1020.32 L868.72,1020.42 L869.55,1020.52 L870.38,1020.62 L871.21,1020.71 L872.04,1020.81 L872.87,1020.90 L873.70,1020.99 L874.53,1021.08 L875.36,1021.16 L876.19,1021.25 L877.02,1021.33 L877.85,1021.41 L878.68,1021.49 L879.51,1021.57 L880.34,1021.65 L881.17,1021.73 L882.00,1021.80 L882.83,1021.87 L883.66,1021.94 L884.49,1022.01 L885.32,1022.08 L886.15,1022.15 L886.98,1022.21 L887.81,1022.28 L888.64,1022.34 L889.47,1022.40 L890.30,1022.46 L891.13,1022.51 L891.96,1022.57 L892.79,1022.62 L893.62,1022.68 L894.45,1022.73 L895.28,1022.78 L896.11,1022.82 L896.94,1022.87 L897.77,1022.92 L898.60,1022.96 L899.43,1023.00 L900.26,1023.04 L901.09,1023.08 L901.92,1023.12 L902.75,1023.16 L903.58,1023.19 L904.41,1023.23 L905.24,1023.26 L906.07,1023.29 L906.90,1023.32 L907.73,1023.35 L908.56,1023.38 L909.39,1023.40 L910.22,1023.43 L911.05,1023.45 L911.88,1023.48 L912.71,1023.50 L913.54,1023.52 L914.38,1023.54 L915.21,1023.55 L916.04,1023.57 L916.87,1023.59 L917.70,1023.60 L918.53,1023.61 L919.36,1023.63 L920.19,1023.64 L921.02,1023.65 L921.85,1023.66 L922.68,1023.67 L923.51,1023.67 L924.34,1023.68 L925.17,1023.69 L926.00,1023.69 L926.83,1023.69 L927.66,1023.70 L928.49,1023.70 L929.32,1023.70 L930.15,1023.70" fill="none" stroke="#008000" stroke-width="6.0" stroke-linecap="square" stroke-linejoin="round"/>
<path d="M232.90,660.51 L930.15,660.51" fill="none" stroke="#ff0000" stroke-width="6.0" stroke-linecap="square" stroke-linejoin="round"/>
<path d="M232.90,1023.70 L930.15,1023.70" fill="none" stroke="#ffa500" stroke-width="8.5" stroke-linecap="square" stroke-linejoin="round"/>
</g>
<text transform="translate(209.90,787.55) rotate(-90)" text-anchor="middle" font-size="31.7" fill="#fff">cathode</text>
<text transform="translate(973.15,790.25) rotate(-90)" text-anchor="middle" font-size="31.7" fill="#fff">anode</text>
<rect x="166.50" y="539.45" width="830.05" height="484.25" fill="none" stroke="#202020" stroke-width="1.9"/>
<line x1="232.90" x2="232.90" y1="1023.70" y2="1031.60" stroke="#202020" stroke-width="1.9"/>
<line x1="398.91" x2="398.91" y1="1023.70" y2="1031.60" stroke="#202020" stroke-width="1.9"/>
<line x1="564.92" x2="564.92" y1="1023.70" y2="1031.60" stroke="#202020" stroke-width="1.9"/>
<line x1="730.93" x2="730.93" y1="1023.70" y2="1031.60" stroke="#202020" stroke-width="1.9"/>
<line x1="896.94" x2="896.94" y1="1023.70" y2="1031.60" stroke="#202020" stroke-width="1.9"/>
<line x1="158.60" x2="166.50" y1="1023.70" y2="1023.70" stroke="#202020" stroke-width="1.9"/>
<text x="151.70" y="1035.20" text-anchor="end" font-size="32.2" fill="#000">0</text>
<line x1="158.60" x2="166.50" y1="902.64" y2="902.64" stroke="#202020" stroke-width="1.9"/>
<text x="151.70" y="914.14" text-anchor="end" font-size="32.2" fill="#000">1</text>
<line x1="158.60" x2="166.50" y1="781.58" y2="781.58" stroke="#202020" stroke-width="1.9"/>
<text x="151.70" y="793.08" text-anchor="end" font-size="32.2" fill="#000">2</text>
<line x1="158.60" x2="166.50" y1="660.51" y2="660.51" stroke="#202020" stroke-width="1.9"/>
<text x="151.70" y="672.01" text-anchor="end" font-size="32.2" fill="#000">3</text>
<line x1="158.60" x2="166.50" y1="539.45" y2="539.45" stroke="#202020" stroke-width="1.9"/>
<text x="151.70" y="550.95" text-anchor="end" font-size="32.2" fill="#000">4</text>
<text transform="translate(116.10,781.58) rotate(-90)" text-anchor="middle" font-size="35.6" fill="#000">c (M)</text>
<g id="tb1"><rect x="356.50" y="564.05" width="162.20" height="44.20" rx="7" ry="7" fill="#f5deb3" fill-opacity="0.5" stroke="#000" stroke-opacity="0.5" stroke-width="1.7"/>
<text x="365.20" y="594.65" font-size="27.9" fill="#000">time = 3 s</text></g>
<g font-family='"Liberation Sans",sans-serif' font-weight="bold" font-size="48.5" fill="#000"><text transform="translate(3.3,569.6) scale(0.806,1)">B</text><text transform="translate(33.4,567.6) scale(0.875,0.985)">)</text></g>
<clipPath id="clip2"><rect x="166.50" y="1064.65" width="830.05" height="484.22"/></clipPath>
<g clip-path="url(#clip2)">
<rect x="166.50" y="1064.65" width="66.40" height="484.22" fill="#808080"/>
<rect x="930.15" y="1064.65" width="66.40" height="484.22" fill="#808080"/>
<line x1="232.90" x2="232.90" y1="1064.65" y2="1548.87" stroke="#a9a9a9" stroke-opacity="0.685" stroke-width="2.2"/>
<line x1="398.91" x2="398.91" y1="1064.65" y2="1548.87" stroke="#a9a9a9" stroke-opacity="0.685" stroke-width="2.2"/>
<line x1="564.92" x2="564.92" y1="1064.65" y2="1548.87" stroke="#a9a9a9" stroke-opacity="0.685" stroke-width="2.2"/>
<line x1="730.93" x2="730.93" y1="1064.65" y2="1548.87" stroke="#a9a9a9" stroke-opacity="0.685" stroke-width="2.2"/>
<line x1="896.94" x2="896.94" y1="1064.65" y2="1548.87" stroke="#a9a9a9" stroke-opacity="0.685" stroke-width="2.2"/>
<line x1="166.50" x2="996.55" y1="1427.82" y2="1427.82" stroke="#a9a9a9" stroke-opacity="0.685" stroke-width="2.2"/>
<line x1="166.50" x2="996.55" y1="1306.76" y2="1306.76" stroke="#a9a9a9" stroke-opacity="0.685" stroke-width="2.2"/>
<line x1="166.50" x2="996.55" y1="1185.70" y2="1185.70" stroke="#a9a9a9" stroke-opacity="0.685" stroke-width="2.2"/>
<path d="M232.90,1548.87 L233.73,1544.16 L234.56,1539.44 L235.39,1534.71 L236.22,1529.97 L237.05,1525.22 L237.88,1520.47 L238.71,1515.72 L239.54,1510.97 L240.37,1506.22 L241.20,1501.48 L242.03,1496.74 L242.86,1492.01 L243.69,1487.29 L244.52,1482.59 L245.35,1477.89 L246.18,1473.21 L247.01,1468.55 L247.84,1463.91 L248.67,1459.29 L249.50,1454.69 L250.34,1450.12 L251.17,1445.57 L252.00,1441.06 L252.83,1436.57 L253.66,1432.11 L254.49,1427.68 L255.32,1423.29 L256.15,1418.94 L256.98,1414.62 L257.81,1410.34 L258.64,1406.10 L259.47,1401.91 L260.30,1397.75 L261.13,1393.64 L261.96,1389.57 L262.79,1385.55 L263.62,1381.58 L264.45,1377.65 L265.28,1373.78 L266.11,1369.95 L266.94,1366.18 L267.77,1362.45 L268.60,1358.78 L269.43,1355.16 L270.26,1351.60 L271.09,1348.09 L271.92,1344.63 L272.75,1341.23 L273.58,1337.89 L274.41,1334.60 L275.24,1331.37 L276.07,1328.20 L276.90,1325.08 L277.73,1322.02 L278.56,1319.02 L279.39,1316.08 L280.22,1313.19 L281.05,1310.36 L281.88,1307.59 L282.71,1304.88 L283.54,1302.22 L284.37,1299.63 L285.20,1297.09 L286.03,1294.60 L286.86,1292.17 L287.69,1289.80 L288.52,1287.49 L289.35,1285.23 L290.18,1283.03 L291.01,1280.88 L291.84,1278.78 L292.67,1276.74 L293.50,1274.76 L294.33,1272.82 L295.16,1270.94 L295.99,1269.10 L296.82,1267.32 L297.65,1265.59 L298.48,1263.91 L299.31,1262.28 L300.14,1260.69 L300.97,1259.15 L301.80,1257.66 L302.63,1256.21 L303.46,1254.81 L304.29,1253.45 L305.12,1252.14 L305.95,1250.86 L306.78,1249.63 L307.61,1248.44 L308.44,1247.29 L309.27,1246.18 L310.10,1245.10 L310.93,1244.06 L311.76,1243.06 L312.59,1242.10 L313.42,1241.16 L314.25,1240.27 L315.08,1239.40 L315.91,1238.57 L316.74,1237.76 L317.57,1236.99 L318.40,1236.25 L319.23,1235.53 L320.06,1234.85 L320.89,1234.19 L321.72,1233.56 L322.55,1232.95 L323.38,1232.36 L324.21,1231.80 L325.04,1231.27 L325.87,1230.75 L326.70,1230.26 L327.53,1229.79 L328.36,1229.33 L329.19,1228.90 L330.02,1228.49 L330.85,1228.09 L331.68,1227.71 L332.51,1227.35 L333.34,1227.00 L334.17,1226.67 L335.00,1226.36 L335.83,1226.06 L336.66,1225.77 L337.49,1225.49 L338.32,1225.23 L339.15,1224.98 L339.98,1224.74 L340.81,1224.52 L341.64,1224.30 L342.47,1224.10 L343.30,1223.90 L344.13,1223.71 L344.96,1223.53 L345.79,1223.36 L346.62,1223.20 L347.45,1223.05 L348.28,1222.90 L349.11,1222.76 L349.94,1222.62 L350.77,1222.50 L351.60,1222.38 L352.43,1222.26 L353.26,1222.15 L354.09,1222.04 L354.92,1221.94 L355.75,1221.85 L356.58,1221.75 L357.41,1221.67 L358.24,1221.58 L359.07,1221.50 L359.90,1221.42 L360.73,1221.35 L361.56,1221.28 L362.39,1221.21 L363.22,1221.15 L364.05,1221.08 L364.88,1221.02 L365.71,1220.96 L366.54,1220.90 L367.37,1220.85 L368.20,1220.80 L369.03,1220.74 L369.86,1220.69 L370.69,1220.64 L371.52,1220.59 L372.35,1220.55 L373.18,1220.50 L374.01,1220.46 L374.84,1220.41 L375.67,1220.37 L376.50,1220.33 L377.33,1220.28 L378.16,1220.24 L378.99,1220.20 L379.82,1220.16 L380.65,1220.12 L381.48,1220.08 L382.31,1220.04 L383.14,1220.00 L383.97,1219.96 L384.80,1219.92 L385.63,1219.88 L386.46,1219.84 L387.29,1219.80 L388.12,1219.76 L388.95,1219.72 L389.78,1219.68 L390.61,1219.64 L391.44,1219.60 L392.27,1219.56 L393.10,1219.52 L393.93,1219.48 L394.76,1219.44 L395.59,1219.40 L396.42,1219.36 L397.25,1219.32 L398.08,1219.27 L398.91,1219.23 L399.74,1219.19 L400.57,1219.15 L401.40,1219.11 L402.23,1219.07 L403.06,1219.03 L403.89,1218.98 L404.72,1218.94 L405.55,1218.90 L406.38,1218.86 L407.21,1218.81 L408.04,1218.77 L408.87,1218.72 L409.70,1218.68 L410.53,1218.64 L411.36,1218.59 L412.19,1218.55 L413.02,1218.50 L413.85,1218.46 L414.68,1218.41 L415.51,1218.36 L416.35,1218.32 L417.18,1218.27 L418.01,1218.22 L418.84,1218.17 L419.67,1218.13 L420.50,1218.08 L421.33,1218.03 L422.16,1217.98 L422.99,1217.93 L423.82,1217.88 L424.65,1217.83 L425.48,1217.78 L426.31,1217.73 L427.14,1217.67 L427.97,1217.62 L428.80,1217.57 L429.63,1217.51 L430.46,1217.46 L431.29,1217.41 L432.12,1217.35 L432.95,1217.30 L433.78,1217.24 L434.61,1217.19 L435.44,1217.13 L436.27,1217.08 L437.10,1217.02 L437.93,1216.96 L438.76,1216.91 L439.59,1216.85 L440.42,1216.79 L441.25,1216.73 L442.08,1216.68 L442.91,1216.62 L443.74,1216.56 L444.57,1216.50 L445.40,1216.44 L446.23,1216.38 L447.06,1216.32 L447.89,1216.26 L448.72,1216.20 L449.55,1216.14 L450.38,1216.08 L451.21,1216.02 L452.04,1215.96 L452.87,1215.90 L453.70,1215.84 L454.53,1215.78 L455.36,1215.72 L456.19,1215.66 L457.02,1215.59 L457.85,1215.53 L458.68,1215.47 L459.51,1215.41 L460.34,1215.34 L461.17,1215.28 L462.00,1215.22 L462.83,1215.15 L463.66,1215.09 L464.49,1215.02 L465.32,1214.96 L466.15,1214.89 L466.98,1214.83 L467.81,1214.76 L468.64,1214.70 L469.47,1214.63 L470.30,1214.56 L471.13,1214.49 L471.96,1214.43 L472.79,1214.36 L473.62,1214.29 L474.45,1214.22 L475.28,1214.15 L476.11,1214.08 L476.94,1214.01 L477.77,1213.94 L478.60,1213.87 L479.43,1213.80 L480.26,1213.73 L481.09,1213.66 L481.92,1213.58 L482.75,1213.51 L483.58,1213.44 L484.41,1213.37 L485.24,1213.29 L486.07,1213.22 L486.90,1213.14 L487.73,1213.07 L488.56,1212.99 L489.39,1212.91 L490.22,1212.84 L491.05,1212.76 L491.88,1212.68 L492.71,1212.61 L493.54,1212.53 L494.37,1212.45 L495.20,1212.37 L496.03,1212.29 L496.86,1212.21 L497.69,1212.13 L498.52,1212.05 L499.35,1211.97 L500.18,1211.89 L501.01,1211.81 L501.84,1211.73 L502.67,1211.65 L503.50,1211.57 L504.33,1211.49 L505.16,1211.41 L505.99,1211.33 L506.82,1211.24 L507.65,1211.16 L508.48,1211.08 L509.31,1211.00 L510.14,1210.91 L510.97,1210.83 L511.80,1210.75 L512.63,1210.67 L513.46,1210.58 L514.29,1210.50 L515.12,1210.42 L515.95,1210.33 L516.78,1210.25 L517.61,1210.17 L518.44,1210.08 L519.27,1210.00 L520.10,1209.92 L520.93,1209.83 L521.76,1209.75 L522.59,1209.66 L523.42,1209.58 L524.25,1209.50 L525.08,1209.41 L525.91,1209.33 L526.74,1209.25 L527.57,1209.16 L528.40,1209.08 L529.23,1208.99 L530.06,1208.91 L530.89,1208.82 L531.72,1208.74 L532.55,1208.66 L533.38,1208.57 L534.21,1208.49 L535.04,1208.40 L535.87,1208.32 L536.70,1208.23 L537.53,1208.15 L538.36,1208.06 L539.19,1207.98 L540.02,1207.89 L540.85,1207.81 L541.68,1207.72 L542.51,1207.63 L543.34,1207.55 L544.17,1207.46 L545.00,1207.38 L545.83,1207.29 L546.66,1207.20 L547.49,1207.12 L548.32,1207.03 L549.15,1206.94 L549.98,1206.86 L550.81,1206.77 L551.64,1206.68 L552.47,1206.59 L553.30,1206.51 L554.13,1206.42 L554.96,1206.33 L555.79,1206.24 L556.62,1206.15 L557.45,1206.06 L558.28,1205.97 L559.11,1205.89 L559.94,1205.80 L560.77,1205.71 L561.60,1205.62 L562.43,1205.53 L563.26,1205.44 L564.09,1205.34 L564.92,1205.25 L565.75,1205.16 L566.58,1205.07 L567.41,1204.98 L568.24,1204.89 L569.07,1204.80 L569.90,1204.70 L570.73,1204.61 L571.56,1204.52 L572.39,1204.43 L573.22,1204.33 L574.05,1204.24 L574.88,1204.15 L575.71,1204.05 L576.54,1203.96 L577.37,1203.87 L578.20,1203.77 L579.03,1203.68 L579.86,1203.58 L580.69,1203.49 L581.52,1203.39 L582.36,1203.30 L583.19,1203.20 L584.02,1203.11 L584.85,1203.01 L585.68,1202.91 L586.51,1202.82 L587.34,1202.72 L588.17,1202.62 L589.00,1202.53 L589.83,1202.43 L590.66,1202.33 L591.49,1202.24 L592.32,1202.14 L593.15,1202.04 L593.98,1201.94 L594.81,1201.84 L595.64,1201.75 L596.47,1201.65 L597.30,1201.55 L598.13,1201.45 L598.96,1201.35 L599.79,1201.25 L600.62,1201.15 L601.45,1201.05 L602.28,1200.95 L603.11,1200.85 L603.94,1200.76 L604.77,1200.66 L605.60,1200.56 L606.43,1200.45 L607.26,1200.35 L608.09,1200.25 L608.92,1200.15 L609.75,1200.05 L610.58,1199.95 L611.41,1199.85 L612.24,1199.75 L613.07,1199.65 L613.90,1199.55 L614.73,1199.45 L615.56,1199.35 L616.39,1199.25 L617.22,1199.15 L618.05,1199.05 L618.88,1198.95 L619.71,1198.85 L620.54,1198.75 L621.37,1198.65 L622.20,1198.55 L623.03,1198.45 L623.86,1198.35 L624.69,1198.25 L625.52,1198.15 L626.35,1198.05 L627.18,1197.95 L628.01,1197.85 L628.84,1197.76 L629.67,1197.66 L630.50,1197.56 L631.33,1197.47 L632.16,1197.37 L632.99,1197.27 L633.82,1197.18 L634.65,1197.08 L635.48,1196.99 L636.31,1196.90 L637.14,1196.80 L637.97,1196.71 L638.80,1196.62 L639.63,1196.53 L640.46,1196.43 L641.29,1196.34 L642.12,1196.25 L642.95,1196.16 L643.78,1196.08 L644.61,1195.99 L645.44,1195.90 L646.27,1195.81 L647.10,1195.73 L647.93,1195.64 L648.76,1195.55 L649.59,1195.47 L650.42,1195.39 L651.25,1195.30 L652.08,1195.22 L652.91,1195.14 L653.74,1195.06 L654.57,1194.98 L655.40,1194.90 L656.23,1194.82 L657.06,1194.74 L657.89,1194.66 L658.72,1194.59 L659.55,1194.51 L660.38,1194.43 L661.21,1194.36 L662.04,1194.28 L662.87,1194.21 L663.70,1194.14 L664.53,1194.07 L665.36,1194.00 L666.19,1193.93 L667.02,1193.86 L667.85,1193.79 L668.68,1193.72 L669.51,1193.65 L670.34,1193.59 L671.17,1193.52 L672.00,1193.46 L672.83,1193.39 L673.66,1193.33 L674.49,1193.27 L675.32,1193.21 L676.15,1193.15 L676.98,1193.09 L677.81,1193.03 L678.64,1192.97 L679.47,1192.91 L680.30,1192.86 L681.13,1192.80 L681.96,1192.75 L682.79,1192.69 L683.62,1192.64 L684.45,1192.59 L685.28,1192.53 L686.11,1192.48 L686.94,1192.43 L687.77,1192.38 L688.60,1192.33 L689.43,1192.29 L690.26,1192.24 L691.09,1192.19 L691.92,1192.15 L692.75,1192.10 L693.58,1192.05 L694.41,1192.01 L695.24,1191.96 L696.07,1191.92 L696.90,1191.88 L697.73,1191.83 L698.56,1191.79 L699.39,1191.75 L700.22,1191.71 L701.05,1191.67 L701.88,1191.62 L702.71,1191.58 L703.54,1191.54 L704.37,1191.50 L705.20,1191.46 L706.03,1191.42 L706.86,1191.38 L707.69,1191.34 L708.52,1191.30 L709.35,1191.26 L710.18,1191.22 L711.01,1191.19 L711.84,1191.15 L712.67,1191.11 L713.50,1191.07 L714.33,1191.03 L715.16,1190.99 L715.99,1190.95 L716.82,1190.91 L717.65,1190.87 L718.48,1190.83 L719.31,1190.80 L720.14,1190.76 L720.97,1190.72 L721.80,1190.68 L722.63,1190.64 L723.46,1190.60 L724.29,1190.56 L725.12,1190.52 L725.95,1190.48 L726.78,1190.44 L727.61,1190.40 L728.44,1190.36 L729.27,1190.32 L730.10,1190.28 L730.93,1190.24 L731.76,1190.19 L732.59,1190.15 L733.42,1190.11 L734.25,1190.07 L735.08,1190.03 L735.91,1189.99 L736.74,1189.95 L737.57,1189.90 L738.40,1189.86 L739.23,1189.82 L740.06,1189.78 L740.89,1189.74 L741.72,1189.70 L742.55,1189.65 L743.38,1189.61 L744.21,1189.57 L745.04,1189.53 L745.87,1189.49 L746.70,1189.44 L747.53,1189.40 L748.37,1189.36 L749.20,1189.32 L750.03,1189.28 L750.86,1189.24 L751.69,1189.20 L752.52,1189.15 L753.35,1189.11 L754.18,1189.07 L755.01,1189.03 L755.84,1188.99 L756.67,1188.95 L757.50,1188.91 L758.33,1188.87 L759.16,1188.83 L759.99,1188.80 L760.82,1188.76 L761.65,1188.72 L762.48,1188.68 L763.31,1188.64 L764.14,1188.60 L764.97,1188.57 L765.80,1188.53 L766.63,1188.49 L767.46,1188.46 L768.29,1188.42 L769.12,1188.38 L769.95,1188.35 L770.78,1188.31 L771.61,1188.28 L772.44,1188.24 L773.27,1188.21 L774.10,1188.17 L774.93,1188.14 L775.76,1188.10 L776.59,1188.07 L777.42,1188.04 L778.25,1188.00 L779.08,1187.97 L779.91,1187.94 L780.74,1187.91 L781.57,1187.87 L782.40,1187.84 L783.23,1187.81 L784.06,1187.78 L784.89,1187.75 L785.72,1187.72 L786.55,1187.69 L787.38,1187.65 L788.21,1187.62 L789.04,1187.59 L789.87,1187.56 L790.70,1187.53 L791.53,1187.51 L792.36,1187.48 L793.19,1187.45 L794.02,1187.42 L794.85,1187.39 L795.68,1187.36 L796.51,1187.33 L797.34,1187.31 L798.17,1187.28 L799.00,1187.25 L799.83,1187.22 L800.66,1187.20 L801.49,1187.17 L802.32,1187.14 L803.15,1187.12 L803.98,1187.09 L804.81,1187.07 L805.64,1187.04 L806.47,1187.02 L807.30,1186.99 L808.13,1186.97 L808.96,1186.94 L809.79,1186.92 L810.62,1186.89 L811.45,1186.87 L812.28,1186.85 L813.11,1186.82 L813.94,1186.80 L814.77,1186.78 L815.60,1186.75 L816.43,1186.73 L817.26,1186.71 L818.09,1186.69 L818.92,1186.66 L819.75,1186.64 L820.58,1186.62 L821.41,1186.60 L822.24,1186.58 L823.07,1186.56 L823.90,1186.54 L824.73,1186.52 L825.56,1186.50 L826.39,1186.48 L827.22,1186.46 L828.05,1186.44 L828.88,1186.42 L829.71,1186.41 L830.54,1186.39 L831.37,1186.37 L832.20,1186.35 L833.03,1186.34 L833.86,1186.32 L834.69,1186.30 L835.52,1186.29 L836.35,1186.27 L837.18,1186.26 L838.01,1186.24 L838.84,1186.23 L839.67,1186.21 L840.50,1186.20 L841.33,1186.19 L842.16,1186.17 L842.99,1186.16 L843.82,1186.15 L844.65,1186.13 L845.48,1186.12 L846.31,1186.11 L847.14,1186.10 L847.97,1186.08 L848.80,1186.07 L849.63,1186.06 L850.46,1186.05 L851.29,1186.04 L852.12,1186.03 L852.95,1186.02 L853.78,1186.01 L854.61,1186.00 L855.44,1185.99 L856.27,1185.98 L857.10,1185.97 L857.93,1185.96 L858.76,1185.96 L859.59,1185.95 L860.42,1185.94 L861.25,1185.93 L862.08,1185.92 L862.91,1185.92 L863.74,1185.91 L864.57,1185.90 L865.40,1185.90 L866.23,1185.89 L867.06,1185.88 L867.89,1185.88 L868.72,1185.87 L869.55,1185.87 L870.38,1185.86 L871.21,1185.86 L872.04,1185.85 L872.87,1185.85 L873.70,1185.84 L874.53,1185.84 L875.36,1185.83 L876.19,1185.83 L877.02,1185.82 L877.85,1185.82 L878.68,1185.82 L879.51,1185.81 L880.34,1185.81 L881.17,1185.80 L882.00,1185.80 L882.83,1185.80 L883.66,1185.79 L884.49,1185.79 L885.32,1185.79 L886.15,1185.79 L886.98,1185.78 L887.81,1185.78 L888.64,1185.78 L889.47,1185.77 L890.30,1185.77 L891.13,1185.77 L891.96,1185.77 L892.79,1185.76 L893.62,1185.76 L894.45,1185.76 L895.28,1185.76 L896.11,1185.76 L896.94,1185.75 L897.77,1185.75 L898.60,1185.75 L899.43,1185.75 L900.26,1185.75 L901.09,1185.74 L901.92,1185.74 L902.75,1185.74 L903.58,1185.74 L904.41,1185.74 L905.24,1185.74 L906.07,1185.73 L906.90,1185.73 L907.73,1185.73 L908.56,1185.73 L909.39,1185.73 L910.22,1185.73 L911.05,1185.73 L911.88,1185.72 L912.71,1185.72 L913.54,1185.72 L914.38,1185.72 L915.21,1185.72 L916.04,1185.72 L916.87,1185.72 L917.70,1185.72 L918.53,1185.72 L919.36,1185.72 L920.19,1185.72 L921.02,1185.71 L921.85,1185.71 L922.68,1185.71 L923.51,1185.71 L924.34,1185.71 L925.17,1185.71 L926.00,1185.71 L926.83,1185.71 L927.66,1185.71 L928.49,1185.71 L929.32,1185.71 L930.15,1185.71" fill="none" stroke="#0000ff" stroke-width="6.0" stroke-linecap="square" stroke-linejoin="round"/>
<path d="M232.90,1185.70 L233.73,1190.41 L234.56,1195.14 L235.39,1199.87 L236.22,1204.61 L237.05,1209.35 L237.88,1214.10 L238.71,1218.85 L239.54,1223.60 L240.37,1228.35 L241.20,1233.09 L242.03,1237.83 L242.86,1242.56 L243.69,1247.28 L244.52,1251.99 L245.35,1256.68 L246.18,1261.36 L247.01,1266.02 L247.84,1270.66 L248.67,1275.28 L249.50,1279.88 L250.34,1284.45 L251.17,1289.00 L252.00,1293.52 L252.83,1298.01 L253.66,1302.47 L254.49,1306.89 L255.32,1311.28 L256.15,1315.64 L256.98,1319.95 L257.81,1324.23 L258.64,1328.47 L259.47,1332.67 L260.30,1336.82 L261.13,1340.94 L261.96,1345.00 L262.79,1349.02 L263.62,1353.00 L264.45,1356.92 L265.28,1360.80 L266.11,1364.62 L266.94,1368.40 L267.77,1372.12 L268.60,1375.80 L269.43,1379.41 L270.26,1382.98 L271.09,1386.49 L271.92,1389.94 L272.75,1393.34 L273.58,1396.69 L274.41,1399.97 L275.24,1403.20 L276.07,1406.38 L276.90,1409.50 L277.73,1412.55 L278.56,1415.56 L279.39,1418.50 L280.22,1421.39 L281.05,1424.21 L281.88,1426.98 L282.71,1429.70 L283.54,1432.35 L284.37,1434.95 L285.20,1437.49 L286.03,1439.97 L286.86,1442.40 L287.69,1444.77 L288.52,1447.08 L289.35,1449.34 L290.18,1451.55 L291.01,1453.70 L291.84,1455.79 L292.67,1457.83 L293.50,1459.82 L294.33,1461.75 L295.16,1463.64 L295.99,1465.47 L296.82,1467.25 L297.65,1468.98 L298.48,1470.66 L299.31,1472.30 L300.14,1473.88 L300.97,1475.42 L301.80,1476.92 L302.63,1478.36 L303.46,1479.76 L304.29,1481.12 L305.12,1482.44 L305.95,1483.71 L306.78,1484.94 L307.61,1486.13 L308.44,1487.29 L309.27,1488.40 L310.10,1489.47 L310.93,1490.51 L311.76,1491.51 L312.59,1492.48 L313.42,1493.41 L314.25,1494.31 L315.08,1495.17 L315.91,1496.01 L316.74,1496.81 L317.57,1497.58 L318.40,1498.33 L319.23,1499.04 L320.06,1499.73 L320.89,1500.39 L321.72,1501.02 L322.55,1501.63 L323.38,1502.21 L324.21,1502.77 L325.04,1503.31 L325.87,1503.82 L326.70,1504.32 L327.53,1504.79 L328.36,1505.24 L329.19,1505.67 L330.02,1506.09 L330.85,1506.48 L331.68,1506.86 L332.51,1507.22 L333.34,1507.57 L334.17,1507.90 L335.00,1508.22 L335.83,1508.52 L336.66,1508.81 L337.49,1509.08 L338.32,1509.34 L339.15,1509.59 L339.98,1509.83 L340.81,1510.06 L341.64,1510.27 L342.47,1510.48 L343.30,1510.68 L344.13,1510.86 L344.96,1511.04 L345.79,1511.21 L346.62,1511.37 L347.45,1511.53 L348.28,1511.68 L349.11,1511.82 L349.94,1511.95 L350.77,1512.08 L351.60,1512.20 L352.43,1512.31 L353.26,1512.43 L354.09,1512.53 L354.92,1512.63 L355.75,1512.73 L356.58,1512.82 L357.41,1512.91 L358.24,1512.99 L359.07,1513.07 L359.90,1513.15 L360.73,1513.22 L361.56,1513.30 L362.39,1513.36 L363.22,1513.43 L364.05,1513.49 L364.88,1513.55 L365.71,1513.61 L366.54,1513.67 L367.37,1513.73 L368.20,1513.78 L369.03,1513.83 L369.86,1513.88 L370.69,1513.93 L371.52,1513.98 L372.35,1514.03 L373.18,1514.07 L374.01,1514.12 L374.84,1514.16 L375.67,1514.21 L376.50,1514.25 L377.33,1514.29 L378.16,1514.33 L378.99,1514.38 L379.82,1514.42 L380.65,1514.46 L381.48,1514.50 L382.31,1514.54 L383.14,1514.58 L383.97,1514.62 L384.80,1514.66 L385.63,1514.70 L386.46,1514.74 L387.29,1514.78 L388.12,1514.82 L388.95,1514.86 L389.78,1514.90 L390.61,1514.94 L391.44,1514.98 L392.27,1515.02 L393.10,1515.06 L393.93,1515.10 L394.76,1515.14 L395.59,1515.18 L396.42,1515.22 L397.25,1515.26 L398.08,1515.30 L398.91,1515.34 L399.74,1515.38 L400.57,1515.42 L401.40,1515.47 L402.23,1515.51 L403.06,1515.55 L403.89,1515.59 L404.72,1515.63 L405.55,1515.68 L406.38,1515.72 L407.21,1515.76 L408.04,1515.81 L408.87,1515.85 L409.70,1515.89 L410.53,1515.94 L411.36,1515.98 L412.19,1516.03 L413.02,1516.07 L413.85,1516.12 L414.68,1516.16 L415.51,1516.21 L416.35,1516.26 L417.18,1516.30 L418.01,1516.35 L418.84,1516.40 L419.67,1516.45 L420.50,1516.50 L421.33,1516.55 L422.16,1516.60 L422.99,1516.65 L423.82,1516.70 L424.65,1516.75 L425.48,1516.80 L426.31,1516.85 L427.14,1516.90 L427.97,1516.95 L428.80,1517.01 L429.63,1517.06 L430.46,1517.11 L431.29,1517.17 L432.12,1517.22 L432.95,1517.28 L433.78,1517.33 L434.61,1517.39 L435.44,1517.44 L436.27,1517.50 L437.10,1517.55 L437.93,1517.61 L438.76,1517.67 L439.59,1517.73 L440.42,1517.78 L441.25,1517.84 L442.08,1517.90 L442.91,1517.96 L443.74,1518.01 L444.57,1518.07 L445.40,1518.13 L446.23,1518.19 L447.06,1518.25 L447.89,1518.31 L448.72,1518.37 L449.55,1518.43 L450.38,1518.49 L451.21,1518.55 L452.04,1518.61 L452.87,1518.67 L453.70,1518.73 L454.53,1518.80 L455.36,1518.86 L456.19,1518.92 L457.02,1518.98 L457.85,1519.04 L458.68,1519.11 L459.51,1519.17 L460.34,1519.23 L461.17,1519.30 L462.00,1519.36 L462.83,1519.42 L463.66,1519.49 L464.49,1519.55 L465.32,1519.62 L466.15,1519.68 L466.98,1519.75 L467.81,1519.81 L468.64,1519.88 L469.47,1519.95 L470.30,1520.01 L471.13,1520.08 L471.96,1520.15 L472.79,1520.22 L473.62,1520.28 L474.45,1520.35 L475.28,1520.42 L476.11,1520.49 L476.94,1520.56 L477.77,1520.63 L478.60,1520.70 L479.43,1520.77 L480.26,1520.85 L481.09,1520.92 L481.92,1520.99 L482.75,1521.06 L483.58,1521.14 L484.41,1521.21 L485.24,1521.28 L486.07,1521.36 L486.90,1521.43 L487.73,1521.51 L488.56,1521.58 L489.39,1521.66 L490.22,1521.74 L491.05,1521.81 L491.88,1521.89 L492.71,1521.97 L493.54,1522.05 L494.37,1522.12 L495.20,1522.20 L496.03,1522.28 L496.86,1522.36 L497.69,1522.44 L498.52,1522.52 L499.35,1522.60 L500.18,1522.68 L501.01,1522.76 L501.84,1522.84 L502.67,1522.92 L503.50,1523.00 L504.33,1523.09 L505.16,1523.17 L505.99,1523.25 L506.82,1523.33 L507.65,1523.41 L508.48,1523.50 L509.31,1523.58 L510.14,1523.66 L510.97,1523.74 L511.80,1523.83 L512.63,1523.91 L513.46,1523.99 L514.29,1524.08 L515.12,1524.16 L515.95,1524.24 L516.78,1524.33 L517.61,1524.41 L518.44,1524.49 L519.27,1524.58 L520.10,1524.66 L520.93,1524.74 L521.76,1524.83 L522.59,1524.91 L523.42,1524.99 L524.25,1525.08 L525.08,1525.16 L525.91,1525.25 L526.74,1525.33 L527.57,1525.41 L528.40,1525.50 L529.23,1525.58 L530.06,1525.67 L530.89,1525.75 L531.72,1525.84 L532.55,1525.92 L533.38,1526.00 L534.21,1526.09 L535.04,1526.17 L535.87,1526.26 L536.70,1526.34 L537.53,1526.43 L538.36,1526.51 L539.19,1526.60 L540.02,1526.68 L540.85,1526.77 L541.68,1526.85 L542.51,1526.94 L543.34,1527.03 L544.17,1527.11 L545.00,1527.20 L545.83,1527.28 L546.66,1527.37 L547.49,1527.46 L548.32,1527.54 L549.15,1527.63 L549.98,1527.72 L550.81,1527.81 L551.64,1527.89 L552.47,1527.98 L553.30,1528.07 L554.13,1528.16 L554.96,1528.25 L555.79,1528.33 L556.62,1528.42 L557.45,1528.51 L558.28,1528.60 L559.11,1528.69 L559.94,1528.78 L560.77,1528.87 L561.60,1528.96 L562.43,1529.05 L563.26,1529.14 L564.09,1529.23 L564.92,1529.32 L565.75,1529.41 L566.58,1529.50 L567.41,1529.59 L568.24,1529.69 L569.07,1529.78 L569.90,1529.87 L570.73,1529.96 L571.56,1530.06 L572.39,1530.15 L573.22,1530.24 L574.05,1530.33 L574.88,1530.43 L575.71,1530.52 L576.54,1530.62 L577.37,1530.71 L578.20,1530.80 L579.03,1530.90 L579.86,1530.99 L580.69,1531.09 L581.52,1531.18 L582.36,1531.28 L583.19,1531.37 L584.02,1531.47 L584.85,1531.57 L585.68,1531.66 L586.51,1531.76 L587.34,1531.85 L588.17,1531.95 L589.00,1532.05 L589.83,1532.14 L590.66,1532.24 L591.49,1532.34 L592.32,1532.44 L593.15,1532.53 L593.98,1532.63 L594.81,1532.73 L595.64,1532.83 L596.47,1532.93 L597.30,1533.03 L598.13,1533.12 L598.96,1533.22 L599.79,1533.32 L600.62,1533.42 L601.45,1533.52 L602.28,1533.62 L603.11,1533.72 L603.94,1533.82 L604.77,1533.92 L605.60,1534.02 L606.43,1534.12 L607.26,1534.22 L608.09,1534.32 L608.92,1534.42 L609.75,1534.52 L610.58,1534.62 L611.41,1534.72 L612.24,1534.82 L613.07,1534.92 L613.90,1535.03 L614.73,1535.13 L615.56,1535.23 L616.39,1535.33 L617.22,1535.43 L618.05,1535.53 L618.88,1535.63 L619.71,1535.73 L620.54,1535.83 L621.37,1535.93 L622.20,1536.03 L623.03,1536.13 L623.86,1536.23 L624.69,1536.33 L625.52,1536.43 L626.35,1536.53 L627.18,1536.62 L628.01,1536.72 L628.84,1536.82 L629.67,1536.92 L630.50,1537.01 L631.33,1537.11 L632.16,1537.21 L632.99,1537.30 L633.82,1537.40 L634.65,1537.49 L635.48,1537.59 L636.31,1537.68 L637.14,1537.77 L637.97,1537.87 L638.80,1537.96 L639.63,1538.05 L640.46,1538.14 L641.29,1538.23 L642.12,1538.32 L642.95,1538.41 L643.78,1538.50 L644.61,1538.59 L645.44,1538.68 L646.27,1538.76 L647.10,1538.85 L647.93,1538.93 L648.76,1539.02 L649.59,1539.10 L650.42,1539.19 L651.25,1539.27 L652.08,1539.35 L652.91,1539.44 L653.74,1539.52 L654.57,1539.60 L655.40,1539.68 L656.23,1539.76 L657.06,1539.84 L657.89,1539.91 L658.72,1539.99 L659.55,1540.07 L660.38,1540.14 L661.21,1540.22 L662.04,1540.29 L662.87,1540.36 L663.70,1540.44 L664.53,1540.51 L665.36,1540.58 L666.19,1540.65 L667.02,1540.72 L667.85,1540.79 L668.68,1540.86 L669.51,1540.92 L670.34,1540.99 L671.17,1541.05 L672.00,1541.12 L672.83,1541.18 L673.66,1541.24 L674.49,1541.31 L675.32,1541.37 L676.15,1541.43 L676.98,1541.49 L677.81,1541.55 L678.64,1541.60 L679.47,1541.66 L680.30,1541.72 L681.13,1541.77 L681.96,1541.83 L682.79,1541.88 L683.62,1541.94 L684.45,1541.99 L685.28,1542.04 L686.11,1542.09 L686.94,1542.14 L687.77,1542.19 L688.60,1542.24 L689.43,1542.29 L690.26,1542.34 L691.09,1542.38 L691.92,1542.43 L692.75,1542.48 L693.58,1542.52 L694.41,1542.57 L695.24,1542.61 L696.07,1542.65 L696.90,1542.70 L697.73,1542.74 L698.56,1542.78 L699.39,1542.83 L700.22,1542.87 L701.05,1542.91 L701.88,1542.95 L702.71,1542.99 L703.54,1543.03 L704.37,1543.07 L705.20,1543.11 L706.03,1543.15 L706.86,1543.19 L707.69,1543.23 L708.52,1543.27 L709.35,1543.31 L710.18,1543.35 L711.01,1543.39 L711.84,1543.43 L712.67,1543.47 L713.50,1543.51 L714.33,1543.55 L715.16,1543.58 L715.99,1543.62 L716.82,1543.66 L717.65,1543.70 L718.48,1543.74 L719.31,1543.78 L720.14,1543.82 L720.97,1543.86 L721.80,1543.90 L722.63,1543.94 L723.46,1543.98 L724.29,1544.02 L725.12,1544.06 L725.95,1544.10 L726.78,1544.14 L727.61,1544.18 L728.44,1544.22 L729.27,1544.26 L730.10,1544.30 L730.93,1544.34 L731.76,1544.38 L732.59,1544.42 L733.42,1544.46 L734.25,1544.50 L735.08,1544.55 L735.91,1544.59 L736.74,1544.63 L737.57,1544.67 L738.40,1544.71 L739.23,1544.75 L740.06,1544.80 L740.89,1544.84 L741.72,1544.88 L742.55,1544.92 L743.38,1544.96 L744.21,1545.01 L745.04,1545.05 L745.87,1545.09 L746.70,1545.13 L747.53,1545.17 L748.37,1545.21 L749.20,1545.26 L750.03,1545.30 L750.86,1545.34 L751.69,1545.38 L752.52,1545.42 L753.35,1545.46 L754.18,1545.50 L755.01,1545.54 L755.84,1545.58 L756.67,1545.62 L757.50,1545.66 L758.33,1545.70 L759.16,1545.74 L759.99,1545.78 L760.82,1545.82 L761.65,1545.86 L762.48,1545.90 L763.31,1545.93 L764.14,1545.97 L764.97,1546.01 L765.80,1546.05 L766.63,1546.08 L767.46,1546.12 L768.29,1546.16 L769.12,1546.19 L769.95,1546.23 L770.78,1546.26 L771.61,1546.30 L772.44,1546.33 L773.27,1546.37 L774.10,1546.40 L774.93,1546.44 L775.76,1546.47 L776.59,1546.50 L777.42,1546.54 L778.25,1546.57 L779.08,1546.60 L779.91,1546.64 L780.74,1546.67 L781.57,1546.70 L782.40,1546.73 L783.23,1546.77 L784.06,1546.80 L784.89,1546.83 L785.72,1546.86 L786.55,1546.89 L787.38,1546.92 L788.21,1546.95 L789.04,1546.98 L789.87,1547.01 L790.70,1547.04 L791.53,1547.07 L792.36,1547.10 L793.19,1547.13 L794.02,1547.16 L794.85,1547.18 L795.68,1547.21 L796.51,1547.24 L797.34,1547.27 L798.17,1547.30 L799.00,1547.32 L799.83,1547.35 L800.66,1547.38 L801.49,1547.40 L802.32,1547.43 L803.15,1547.46 L803.98,1547.48 L804.81,1547.51 L805.64,1547.53 L806.47,1547.56 L807.30,1547.58 L808.13,1547.61 L808.96,1547.63 L809.79,1547.66 L810.62,1547.68 L811.45,1547.71 L812.28,1547.73 L813.11,1547.75 L813.94,1547.78 L814.77,1547.80 L815.60,1547.82 L816.43,1547.84 L817.26,1547.87 L818.09,1547.89 L818.92,1547.91 L819.75,1547.93 L820.58,1547.95 L821.41,1547.97 L822.24,1548.00 L823.07,1548.02 L823.90,1548.04 L824.73,1548.06 L825.56,1548.07 L826.39,1548.09 L827.22,1548.11 L828.05,1548.13 L828.88,1548.15 L829.71,1548.17 L830.54,1548.19 L831.37,1548.20 L832.20,1548.22 L833.03,1548.24 L833.86,1548.25 L834.69,1548.27 L835.52,1548.29 L836.35,1548.30 L837.18,1548.32 L838.01,1548.33 L838.84,1548.35 L839.67,1548.36 L840.50,1548.38 L841.33,1548.39 L842.16,1548.40 L842.99,1548.42 L843.82,1548.43 L844.65,1548.44 L845.48,1548.45 L846.31,1548.47 L847.14,1548.48 L847.97,1548.49 L848.80,1548.50 L849.63,1548.51 L850.46,1548.52 L851.29,1548.53 L852.12,1548.54 L852.95,1548.56 L853.78,1548.57 L854.61,1548.57 L855.44,1548.58 L856.27,1548.59 L857.10,1548.60 L857.93,1548.61 L858.76,1548.62 L859.59,1548.63 L860.42,1548.64 L861.25,1548.64 L862.08,1548.65 L862.91,1548.66 L863.74,1548.67 L864.57,1548.67 L865.40,1548.68 L866.23,1548.69 L867.06,1548.69 L867.89,1548.70 L868.72,1548.70 L869.55,1548.71 L870.38,1548.71 L871.21,1548.72 L872.04,1548.72 L872.87,1548.73 L873.70,1548.73 L874.53,1548.74 L875.36,1548.74 L876.19,1548.75 L877.02,1548.75 L877.85,1548.76 L878.68,1548.76 L879.51,1548.76 L880.34,1548.77 L881.17,1548.77 L882.00,1548.77 L882.83,1548.78 L883.66,1548.78 L884.49,1548.78 L885.32,1548.79 L886.15,1548.79 L886.98,1548.79 L887.81,1548.80 L888.64,1548.80 L889.47,1548.80 L890.30,1548.80 L891.13,1548.81 L891.96,1548.81 L892.79,1548.81 L893.62,1548.81 L894.45,1548.81 L895.28,1548.82 L896.11,1548.82 L896.94,1548.82 L897.77,1548.82 L898.60,1548.83 L899.43,1548.83 L900.26,1548.83 L901.09,1548.83 L901.92,1548.83 L902.75,1548.83 L903.58,1548.84 L904.41,1548.84 L905.24,1548.84 L906.07,1548.84 L906.90,1548.84 L907.73,1548.84 L908.56,1548.85 L909.39,1548.85 L910.22,1548.85 L911.05,1548.85 L911.88,1548.85 L912.71,1548.85 L913.54,1548.85 L914.38,1548.85 L915.21,1548.85 L916.04,1548.86 L916.87,1548.86 L917.70,1548.86 L918.53,1548.86 L919.36,1548.86 L920.19,1548.86 L921.02,1548.86 L921.85,1548.86 L922.68,1548.86 L923.51,1548.86 L924.34,1548.86 L925.17,1548.86 L926.00,1548.86 L926.83,1548.86 L927.66,1548.87 L928.49,1548.87 L929.32,1548.87 L930.15,1548.87" fill="none" stroke="#008000" stroke-width="6.0" stroke-linecap="square" stroke-linejoin="round"/>
<path d="M232.90,1185.70 L930.15,1185.70" fill="none" stroke="#ff0000" stroke-width="6.0" stroke-linecap="square" stroke-linejoin="round"/>
<path d="M232.90,1548.87 L930.15,1548.87" fill="none" stroke="#ffa500" stroke-width="8.5" stroke-linecap="square" stroke-linejoin="round"/>
</g>
<text transform="translate(209.90,1312.75) rotate(-90)" text-anchor="middle" font-size="31.7" fill="#fff">cathode</text>
<text transform="translate(973.15,1315.45) rotate(-90)" text-anchor="middle" font-size="31.7" fill="#fff">anode</text>
<rect x="166.50" y="1064.65" width="830.05" height="484.22" fill="none" stroke="#202020" stroke-width="1.9"/>
<line x1="232.90" x2="232.90" y1="1548.87" y2="1556.77" stroke="#202020" stroke-width="1.9"/>
<line x1="398.91" x2="398.91" y1="1548.87" y2="1556.77" stroke="#202020" stroke-width="1.9"/>
<line x1="564.92" x2="564.92" y1="1548.87" y2="1556.77" stroke="#202020" stroke-width="1.9"/>
<line x1="730.93" x2="730.93" y1="1548.87" y2="1556.77" stroke="#202020" stroke-width="1.9"/>
<line x1="896.94" x2="896.94" y1="1548.87" y2="1556.77" stroke="#202020" stroke-width="1.9"/>
<line x1="158.60" x2="166.50" y1="1548.87" y2="1548.87" stroke="#202020" stroke-width="1.9"/>
<text x="151.70" y="1560.37" text-anchor="end" font-size="32.2" fill="#000">0</text>
<line x1="158.60" x2="166.50" y1="1427.82" y2="1427.82" stroke="#202020" stroke-width="1.9"/>
<text x="151.70" y="1439.32" text-anchor="end" font-size="32.2" fill="#000">1</text>
<line x1="158.60" x2="166.50" y1="1306.76" y2="1306.76" stroke="#202020" stroke-width="1.9"/>
<text x="151.70" y="1318.26" text-anchor="end" font-size="32.2" fill="#000">2</text>
<line x1="158.60" x2="166.50" y1="1185.70" y2="1185.70" stroke="#202020" stroke-width="1.9"/>
<text x="151.70" y="1197.20" text-anchor="end" font-size="32.2" fill="#000">3</text>
<line x1="158.60" x2="166.50" y1="1064.65" y2="1064.65" stroke="#202020" stroke-width="1.9"/>
<text x="151.70" y="1076.15" text-anchor="end" font-size="32.2" fill="#000">4</text>
<text transform="translate(116.10,1306.76) rotate(-90)" text-anchor="middle" font-size="35.6" fill="#000">c (M)</text>
<g id="tb2"><rect x="356.50" y="1089.25" width="189.20" height="44.20" rx="7" ry="7" fill="#f5deb3" fill-opacity="0.5" stroke="#000" stroke-opacity="0.5" stroke-width="1.7"/>
<text x="365.20" y="1119.85" font-size="27.9" fill="#000">time = 7.7 s</text></g>
<g font-family='"Liberation Sans",sans-serif' font-weight="bold" font-size="48.5" fill="#000"><text transform="translate(5.9,1106.0) scale(0.79,1)">C</text><text transform="translate(34.6,1104.0) scale(0.875,0.985)">)</text></g>
<clipPath id="clip3"><rect x="164.90" y="1589.75" width="829.85" height="484.65"/></clipPath>
<g clip-path="url(#clip3)">
<rect x="164.90" y="1589.75" width="66.39" height="484.65" fill="#808080"/>
<rect x="928.36" y="1589.75" width="66.39" height="484.65" fill="#808080"/>
<line x1="231.29" x2="231.29" y1="1589.75" y2="2074.40" stroke="#a9a9a9" stroke-opacity="0.685" stroke-width="2.2"/>
<line x1="397.26" x2="397.26" y1="1589.75" y2="2074.40" stroke="#a9a9a9" stroke-opacity="0.685" stroke-width="2.2"/>
<line x1="563.23" x2="563.23" y1="1589.75" y2="2074.40" stroke="#a9a9a9" stroke-opacity="0.685" stroke-width="2.2"/>
<line x1="729.20" x2="729.20" y1="1589.75" y2="2074.40" stroke="#a9a9a9" stroke-opacity="0.685" stroke-width="2.2"/>
<line x1="895.17" x2="895.17" y1="1589.75" y2="2074.40" stroke="#a9a9a9" stroke-opacity="0.685" stroke-width="2.2"/>
<line x1="164.90" x2="994.75" y1="1953.24" y2="1953.24" stroke="#a9a9a9" stroke-opacity="0.685" stroke-width="2.2"/>
<line x1="164.90" x2="994.75" y1="1832.08" y2="1832.08" stroke="#a9a9a9" stroke-opacity="0.685" stroke-width="2.2"/>
<line x1="164.90" x2="994.75" y1="1710.91" y2="1710.91" stroke="#a9a9a9" stroke-opacity="0.685" stroke-width="2.2"/>
<path d="M231.29,2074.40 L238.26,2057.57 L238.76,2054.44 L239.59,2049.25 L240.42,2044.10 L241.25,2038.98 L242.08,2033.91 L242.91,2028.86 L243.74,2023.86 L244.57,2018.89 L245.40,2013.96 L246.23,2009.07 L247.06,2004.21 L247.88,1999.39 L248.71,1994.61 L249.54,1989.87 L250.37,1985.16 L251.20,1980.50 L252.03,1975.87 L252.86,1971.28 L253.69,1966.73 L254.52,1962.22 L255.35,1957.75 L256.18,1953.32 L257.01,1948.94 L257.84,1944.59 L258.67,1940.29 L259.50,1936.03 L260.33,1931.81 L261.16,1927.64 L261.99,1923.51 L262.82,1919.42 L263.65,1915.38 L264.48,1911.39 L265.31,1907.44 L266.14,1903.54 L266.97,1899.68 L267.80,1895.88 L268.63,1892.12 L269.46,1888.41 L270.29,1884.75 L271.12,1881.13 L271.95,1877.57 L272.78,1874.06 L273.61,1870.60 L274.44,1867.18 L275.27,1863.82 L276.10,1860.51 L276.93,1857.26 L277.76,1854.05 L278.59,1850.90 L279.42,1847.80 L280.25,1844.75 L281.08,1841.76 L281.91,1838.82 L282.74,1835.93 L283.57,1833.09 L284.40,1830.31 L285.23,1827.58 L286.06,1824.91 L286.89,1822.29 L287.72,1819.72 L288.55,1817.21 L289.38,1814.75 L290.21,1812.34 L291.04,1809.98 L291.87,1807.68 L292.70,1805.43 L293.53,1803.23 L294.36,1801.08 L295.19,1798.99 L296.02,1796.95 L296.85,1794.95 L297.68,1793.01 L298.51,1791.12 L299.34,1789.28 L300.17,1787.48 L301.00,1785.74 L301.83,1784.04 L302.66,1782.39 L303.48,1780.79 L304.31,1779.23 L305.14,1777.72 L305.97,1776.26 L306.80,1774.83 L307.63,1773.46 L308.46,1772.12 L309.29,1770.83 L310.12,1769.58 L310.95,1768.36 L311.78,1767.19 L312.61,1766.06 L313.44,1764.97 L314.27,1763.91 L315.10,1762.89 L315.93,1761.91 L316.76,1760.96 L317.59,1760.05 L318.42,1759.17 L319.25,1758.32 L320.08,1757.50 L320.91,1756.72 L321.74,1755.96 L322.57,1755.23 L323.40,1754.53 L324.23,1753.86 L325.06,1753.22 L325.89,1752.60 L326.72,1752.01 L327.55,1751.44 L328.38,1750.89 L329.21,1750.37 L330.04,1749.87 L330.87,1749.39 L331.70,1748.93 L332.53,1748.49 L333.36,1748.07 L334.19,1747.67 L335.02,1747.28 L335.85,1746.91 L336.68,1746.56 L337.51,1746.22 L338.34,1745.90 L339.17,1745.59 L340.00,1745.29 L340.83,1745.01 L341.66,1744.74 L342.49,1744.48 L343.32,1744.23 L344.15,1744.00 L344.98,1743.77 L345.81,1743.55 L346.64,1743.35 L347.47,1743.15 L348.30,1742.96 L349.13,1742.77 L349.96,1742.60 L350.79,1742.43 L351.62,1742.27 L352.45,1742.11 L353.28,1741.96 L354.11,1741.82 L354.94,1741.68 L355.77,1741.54 L356.60,1741.41 L357.43,1741.29 L358.26,1741.17 L359.08,1741.05 L359.91,1740.94 L360.74,1740.83 L361.57,1740.72 L362.40,1740.61 L363.23,1740.51 L364.06,1740.41 L364.89,1740.32 L365.72,1740.22 L366.55,1740.13 L367.38,1740.04 L368.21,1739.95 L369.04,1739.86 L369.87,1739.78 L370.70,1739.69 L371.53,1739.61 L372.36,1739.52 L373.19,1739.44 L374.02,1739.36 L374.85,1739.28 L375.68,1739.20 L376.51,1739.12 L377.34,1739.04 L378.17,1738.96 L379.00,1738.89 L379.83,1738.81 L380.66,1738.73 L381.49,1738.65 L382.32,1738.58 L383.15,1738.50 L383.98,1738.42 L384.81,1738.35 L385.64,1738.27 L386.47,1738.19 L387.30,1738.12 L388.13,1738.04 L388.96,1737.96 L389.79,1737.88 L390.62,1737.81 L391.45,1737.73 L392.28,1737.65 L393.11,1737.57 L393.94,1737.49 L394.77,1737.41 L395.60,1737.33 L396.43,1737.25 L397.26,1737.17 L398.09,1737.09 L398.92,1737.01 L399.75,1736.93 L400.58,1736.85 L401.41,1736.77 L402.24,1736.69 L403.07,1736.61 L403.90,1736.53 L404.73,1736.44 L405.56,1736.36 L406.39,1736.28 L407.22,1736.19 L408.05,1736.11 L408.88,1736.03 L409.71,1735.94 L410.54,1735.86 L411.37,1735.77 L412.20,1735.69 L413.03,1735.60 L413.86,1735.52 L414.68,1735.43 L415.51,1735.35 L416.34,1735.26 L417.17,1735.17 L418.00,1735.09 L418.83,1735.00 L419.66,1734.91 L420.49,1734.83 L421.32,1734.74 L422.15,1734.65 L422.98,1734.56 L423.81,1734.48 L424.64,1734.39 L425.47,1734.30 L426.30,1734.21 L427.13,1734.12 L427.96,1734.03 L428.79,1733.94 L429.62,1733.86 L430.45,1733.77 L431.28,1733.68 L432.11,1733.59 L432.94,1733.50 L433.77,1733.41 L434.60,1733.32 L435.43,1733.23 L436.26,1733.14 L437.09,1733.05 L437.92,1732.96 L438.75,1732.87 L439.58,1732.78 L440.41,1732.69 L441.24,1732.60 L442.07,1732.51 L442.90,1732.41 L443.73,1732.32 L444.56,1732.23 L445.39,1732.14 L446.22,1732.05 L447.05,1731.96 L447.88,1731.87 L448.71,1731.78 L449.54,1731.69 L450.37,1731.60 L451.20,1731.51 L452.03,1731.41 L452.86,1731.32 L453.69,1731.23 L454.52,1731.14 L455.35,1731.05 L456.18,1730.96 L457.01,1730.87 L457.84,1730.78 L458.67,1730.68 L459.50,1730.59 L460.33,1730.50 L461.16,1730.41 L461.99,1730.32 L462.82,1730.23 L463.65,1730.14 L464.48,1730.04 L465.31,1729.95 L466.14,1729.86 L466.97,1729.77 L467.80,1729.68 L468.63,1729.59 L469.45,1729.50 L470.28,1729.41 L471.11,1729.31 L471.94,1729.22 L472.77,1729.13 L473.60,1729.04 L474.43,1728.95 L475.26,1728.86 L476.09,1728.77 L476.92,1728.68 L477.75,1728.59 L478.58,1728.50 L479.41,1728.41 L480.24,1728.32 L481.07,1728.22 L481.90,1728.13 L482.73,1728.04 L483.56,1727.95 L484.39,1727.87 L485.22,1727.78 L486.05,1727.69 L486.88,1727.60 L487.71,1727.51 L488.54,1727.42 L489.37,1727.33 L490.20,1727.24 L491.03,1727.15 L491.86,1727.07 L492.69,1726.98 L493.52,1726.89 L494.35,1726.80 L495.18,1726.72 L496.01,1726.63 L496.84,1726.54 L497.67,1726.46 L498.50,1726.37 L499.33,1726.28 L500.16,1726.20 L500.99,1726.11 L501.82,1726.03 L502.65,1725.94 L503.48,1725.86 L504.31,1725.77 L505.14,1725.69 L505.97,1725.60 L506.80,1725.52 L507.63,1725.44 L508.46,1725.35 L509.29,1725.27 L510.12,1725.19 L510.95,1725.11 L511.78,1725.02 L512.61,1724.94 L513.44,1724.86 L514.27,1724.78 L515.10,1724.69 L515.93,1724.61 L516.76,1724.53 L517.59,1724.45 L518.42,1724.37 L519.25,1724.29 L520.08,1724.21 L520.91,1724.13 L521.74,1724.05 L522.57,1723.97 L523.40,1723.89 L524.23,1723.81 L525.05,1723.73 L525.88,1723.65 L526.71,1723.57 L527.54,1723.49 L528.37,1723.41 L529.20,1723.33 L530.03,1723.25 L530.86,1723.17 L531.69,1723.09 L532.52,1723.01 L533.35,1722.93 L534.18,1722.85 L535.01,1722.78 L535.84,1722.70 L536.67,1722.62 L537.50,1722.54 L538.33,1722.46 L539.16,1722.38 L539.99,1722.30 L540.82,1722.23 L541.65,1722.15 L542.48,1722.07 L543.31,1721.99 L544.14,1721.91 L544.97,1721.83 L545.80,1721.76 L546.63,1721.68 L547.46,1721.60 L548.29,1721.52 L549.12,1721.45 L549.95,1721.37 L550.78,1721.29 L551.61,1721.21 L552.44,1721.14 L553.27,1721.06 L554.10,1720.98 L554.93,1720.91 L555.76,1720.83 L556.59,1720.75 L557.42,1720.68 L558.25,1720.60 L559.08,1720.52 L559.91,1720.45 L560.74,1720.37 L561.57,1720.30 L562.40,1720.22 L563.23,1720.15 L564.06,1720.07 L564.89,1720.00 L565.72,1719.92 L566.55,1719.85 L567.38,1719.78 L568.21,1719.70 L569.04,1719.63 L569.87,1719.56 L570.70,1719.49 L571.53,1719.41 L572.36,1719.34 L573.19,1719.27 L574.02,1719.20 L574.85,1719.13 L575.68,1719.06 L576.51,1718.99 L577.34,1718.92 L578.17,1718.85 L579.00,1718.78 L579.83,1718.71 L580.65,1718.64 L581.48,1718.58 L582.31,1718.51 L583.14,1718.44 L583.97,1718.37 L584.80,1718.31 L585.63,1718.24 L586.46,1718.17 L587.29,1718.11 L588.12,1718.04 L588.95,1717.98 L589.78,1717.91 L590.61,1717.85 L591.44,1717.79 L592.27,1717.72 L593.10,1717.66 L593.93,1717.59 L594.76,1717.53 L595.59,1717.47 L596.42,1717.41 L597.25,1717.35 L598.08,1717.28 L598.91,1717.22 L599.74,1717.16 L600.57,1717.10 L601.40,1717.04 L602.23,1716.98 L603.06,1716.92 L603.89,1716.86 L604.72,1716.80 L605.55,1716.74 L606.38,1716.69 L607.21,1716.63 L608.04,1716.57 L608.87,1716.51 L609.70,1716.46 L610.53,1716.40 L611.36,1716.34 L612.19,1716.29 L613.02,1716.23 L613.85,1716.18 L614.68,1716.12 L615.51,1716.07 L616.34,1716.01 L617.17,1715.96 L618.00,1715.91 L618.83,1715.85 L619.66,1715.80 L620.49,1715.75 L621.32,1715.69 L622.15,1715.64 L622.98,1715.59 L623.81,1715.54 L624.64,1715.49 L625.47,1715.44 L626.30,1715.38 L627.13,1715.33 L627.96,1715.28 L628.79,1715.23 L629.62,1715.19 L630.45,1715.14 L631.28,1715.09 L632.11,1715.04 L632.94,1714.99 L633.77,1714.94 L634.60,1714.90 L635.42,1714.85 L636.25,1714.80 L637.08,1714.75 L637.91,1714.71 L638.74,1714.66 L639.57,1714.62 L640.40,1714.57 L641.23,1714.53 L642.06,1714.48 L642.89,1714.44 L643.72,1714.39 L644.55,1714.35 L645.38,1714.31 L646.21,1714.26 L647.04,1714.22 L647.87,1714.18 L648.70,1714.14 L649.53,1714.09 L650.36,1714.05 L651.19,1714.01 L652.02,1713.97 L652.85,1713.93 L653.68,1713.89 L654.51,1713.85 L655.34,1713.81 L656.17,1713.77 L657.00,1713.73 L657.83,1713.70 L658.66,1713.66 L659.49,1713.62 L660.32,1713.58 L661.15,1713.54 L661.98,1713.51 L662.81,1713.47 L663.64,1713.44 L664.47,1713.40 L665.30,1713.36 L666.13,1713.33 L666.96,1713.29 L667.79,1713.26 L668.62,1713.22 L669.45,1713.19 L670.28,1713.16 L671.11,1713.12 L671.94,1713.09 L672.77,1713.06 L673.60,1713.02 L674.43,1712.99 L675.26,1712.96 L676.09,1712.93 L676.92,1712.90 L677.75,1712.87 L678.58,1712.83 L679.41,1712.80 L680.24,1712.77 L681.07,1712.74 L681.90,1712.71 L682.73,1712.68 L683.56,1712.66 L684.39,1712.63 L685.22,1712.60 L686.05,1712.57 L686.88,1712.54 L687.71,1712.51 L688.54,1712.49 L689.37,1712.46 L690.20,1712.43 L691.02,1712.41 L691.85,1712.38 L692.68,1712.35 L693.51,1712.33 L694.34,1712.30 L695.17,1712.28 L696.00,1712.25 L696.83,1712.23 L697.66,1712.20 L698.49,1712.18 L699.32,1712.16 L700.15,1712.13 L700.98,1712.11 L701.81,1712.09 L702.64,1712.06 L703.47,1712.04 L704.30,1712.02 L705.13,1712.00 L705.96,1711.97 L706.79,1711.95 L707.62,1711.93 L708.45,1711.91 L709.28,1711.89 L710.11,1711.87 L710.94,1711.85 L711.77,1711.83 L712.60,1711.81 L713.43,1711.79 L714.26,1711.77 L715.09,1711.75 L715.92,1711.73 L716.75,1711.71 L717.58,1711.69 L718.41,1711.67 L719.24,1711.66 L720.07,1711.64 L720.90,1711.62 L721.73,1711.60 L722.56,1711.59 L723.39,1711.57 L724.22,1711.55 L725.05,1711.54 L725.88,1711.52 L726.71,1711.51 L727.54,1711.49 L728.37,1711.48 L729.20,1711.46 L730.03,1711.45 L730.86,1711.43 L731.69,1711.42 L732.52,1711.41 L733.35,1711.39 L734.18,1711.38 L735.01,1711.37 L735.84,1711.36 L736.67,1711.34 L737.50,1711.33 L738.33,1711.32 L739.16,1711.31 L739.99,1711.30 L740.82,1711.29 L741.65,1711.27 L742.48,1711.26 L743.31,1711.25 L744.14,1711.24 L744.97,1711.23 L745.79,1711.22 L746.62,1711.21 L747.45,1711.21 L748.28,1711.20 L749.11,1711.19 L749.94,1711.18 L750.77,1711.17 L751.60,1711.16 L752.43,1711.15 L753.26,1711.15 L754.09,1711.14 L754.92,1711.13 L755.75,1711.12 L756.58,1711.12 L757.41,1711.11 L758.24,1711.10 L759.07,1711.10 L759.90,1711.09 L760.73,1711.08 L761.56,1711.08 L762.39,1711.07 L763.22,1711.07 L764.05,1711.06 L764.88,1711.06 L765.71,1711.05 L766.54,1711.05 L767.37,1711.04 L768.20,1711.04 L769.03,1711.03 L769.86,1711.03 L770.69,1711.02 L771.52,1711.02 L772.35,1711.02 L773.18,1711.01 L774.01,1711.01 L774.84,1711.01 L775.67,1711.00 L776.50,1711.00 L777.33,1711.00 L778.16,1710.99 L778.99,1710.99 L779.82,1710.99 L780.65,1710.99 L781.48,1710.98 L782.31,1710.98 L783.14,1710.98 L783.97,1710.98 L784.80,1710.98 L785.63,1710.98 L786.46,1710.97 L787.29,1710.97 L788.12,1710.97 L788.95,1710.97 L789.78,1710.97 L790.61,1710.97 L791.44,1710.97 L792.27,1710.96 L793.10,1710.96 L793.93,1710.96 L794.76,1710.96 L795.59,1710.96 L796.42,1710.96 L797.25,1710.96 L798.08,1710.96 L798.91,1710.96 L799.74,1710.96 L800.57,1710.96 L801.39,1710.96 L802.22,1710.95 L803.05,1710.95 L803.88,1710.95 L804.71,1710.95 L805.54,1710.95 L806.37,1710.95 L807.20,1710.95 L808.03,1710.95 L808.86,1710.95 L809.69,1710.95 L810.52,1710.95 L811.35,1710.95 L812.18,1710.95 L813.01,1710.95 L813.84,1710.95 L814.67,1710.95 L815.50,1710.95 L816.33,1710.94 L817.16,1710.94 L817.99,1710.94 L818.82,1710.94 L819.65,1710.94 L820.48,1710.94 L821.31,1710.94 L822.14,1710.94 L822.97,1710.94 L823.80,1710.94 L824.63,1710.94 L825.46,1710.94 L826.29,1710.94 L827.12,1710.94 L827.95,1710.94 L828.78,1710.94 L829.61,1710.94 L830.44,1710.94 L831.27,1710.94 L832.10,1710.94 L832.93,1710.94 L833.76,1710.93 L834.59,1710.93 L835.42,1710.93 L836.25,1710.93 L837.08,1710.93 L837.91,1710.93 L838.74,1710.93 L839.57,1710.93 L840.40,1710.93 L841.23,1710.93 L842.06,1710.93 L842.89,1710.93 L843.72,1710.93 L844.55,1710.93 L845.38,1710.93 L846.21,1710.93 L847.04,1710.93 L847.87,1710.93 L848.70,1710.93 L849.53,1710.93 L850.36,1710.93 L851.19,1710.93 L852.02,1710.93 L852.85,1710.93 L853.68,1710.93 L854.51,1710.93 L855.34,1710.93 L856.17,1710.93 L856.99,1710.92 L857.82,1710.92 L858.65,1710.92 L859.48,1710.92 L860.31,1710.92 L861.14,1710.92 L861.97,1710.92 L862.80,1710.92 L863.63,1710.92 L864.46,1710.92 L865.29,1710.92 L866.12,1710.92 L866.95,1710.92 L867.78,1710.92 L868.61,1710.92 L869.44,1710.92 L870.27,1710.92 L871.10,1710.92 L871.93,1710.92 L872.76,1710.92 L873.59,1710.92 L874.42,1710.92 L875.25,1710.92 L876.08,1710.92 L876.91,1710.92 L877.74,1710.92 L878.57,1710.92 L879.40,1710.92 L880.23,1710.92 L881.06,1710.92 L881.89,1710.92 L882.72,1710.92 L883.55,1710.92 L884.38,1710.92 L885.21,1710.92 L886.04,1710.92 L886.87,1710.92 L887.70,1710.92 L888.53,1710.92 L889.36,1710.92 L890.19,1710.92 L891.02,1710.92 L891.85,1710.92 L892.68,1710.92 L893.51,1710.92 L894.34,1710.92 L895.17,1710.92 L896.00,1710.92 L896.83,1710.91 L897.66,1710.91 L898.49,1710.91 L899.32,1710.91 L900.15,1710.91 L900.98,1710.91 L901.81,1710.91 L902.64,1710.91 L903.47,1710.91 L904.30,1710.91 L905.13,1710.91 L905.96,1710.91 L906.79,1710.91 L907.62,1710.91 L908.45,1710.91 L909.28,1710.91 L910.11,1710.91 L910.94,1710.91 L911.76,1710.91 L912.59,1710.91 L913.42,1710.91 L914.25,1710.91 L915.08,1710.91 L915.91,1710.91 L916.74,1710.91 L917.57,1710.91 L918.40,1710.91 L919.23,1710.91 L920.06,1710.91 L920.89,1710.91 L921.72,1710.91 L922.55,1710.91 L923.38,1710.91 L924.21,1710.91 L925.04,1710.91 L925.87,1710.91 L926.70,1710.91 L927.53,1710.91 L928.36,1710.91" fill="none" stroke="#0000ff" stroke-width="6.0" stroke-linecap="square" stroke-linejoin="round"/>
<path d="M231.29,1417.70 L238.26,1727.74 L238.76,1730.87 L239.59,1736.06 L240.42,1741.21 L241.25,1746.33 L242.08,1751.41 L242.91,1756.45 L243.74,1761.45 L244.57,1766.42 L245.40,1771.35 L246.23,1776.24 L247.06,1781.10 L247.88,1785.92 L248.71,1790.70 L249.54,1795.44 L250.37,1800.15 L251.20,1804.82 L252.03,1809.44 L252.86,1814.03 L253.69,1818.58 L254.52,1823.09 L255.35,1827.56 L256.18,1831.99 L257.01,1836.38 L257.84,1840.72 L258.67,1845.02 L259.50,1849.28 L260.33,1853.50 L261.16,1857.67 L261.99,1861.80 L262.82,1865.89 L263.65,1869.93 L264.48,1873.92 L265.31,1877.87 L266.14,1881.77 L266.97,1885.63 L267.80,1889.43 L268.63,1893.19 L269.46,1896.90 L270.29,1900.57 L271.12,1904.18 L271.95,1907.74 L272.78,1911.26 L273.61,1914.72 L274.44,1918.13 L275.27,1921.49 L276.10,1924.80 L276.93,1928.06 L277.76,1931.26 L278.59,1934.41 L279.42,1937.51 L280.25,1940.56 L281.08,1943.55 L281.91,1946.50 L282.74,1949.38 L283.57,1952.22 L284.40,1955.00 L285.23,1957.73 L286.06,1960.40 L286.89,1963.02 L287.72,1965.59 L288.55,1968.11 L289.38,1970.57 L290.21,1972.98 L291.04,1975.33 L291.87,1977.63 L292.70,1979.88 L293.53,1982.08 L294.36,1984.23 L295.19,1986.32 L296.02,1988.37 L296.85,1990.36 L297.68,1992.30 L298.51,1994.19 L299.34,1996.04 L300.17,1997.83 L301.00,1999.57 L301.83,2001.27 L302.66,2002.92 L303.48,2004.52 L304.31,2006.08 L305.14,2007.59 L305.97,2009.06 L306.80,2010.48 L307.63,2011.86 L308.46,2013.19 L309.29,2014.49 L310.12,2015.74 L310.95,2016.95 L311.78,2018.12 L312.61,2019.25 L313.44,2020.34 L314.27,2021.40 L315.10,2022.42 L315.93,2023.40 L316.76,2024.35 L317.59,2025.27 L318.42,2026.15 L319.25,2027.00 L320.08,2027.81 L320.91,2028.60 L321.74,2029.35 L322.57,2030.08 L323.40,2030.78 L324.23,2031.45 L325.06,2032.09 L325.89,2032.71 L326.72,2033.30 L327.55,2033.87 L328.38,2034.42 L329.21,2034.94 L330.04,2035.44 L330.87,2035.92 L331.70,2036.38 L332.53,2036.82 L333.36,2037.24 L334.19,2037.65 L335.02,2038.03 L335.85,2038.40 L336.68,2038.75 L337.51,2039.09 L338.34,2039.41 L339.17,2039.72 L340.00,2040.02 L340.83,2040.30 L341.66,2040.57 L342.49,2040.83 L343.32,2041.08 L344.15,2041.32 L344.98,2041.54 L345.81,2041.76 L346.64,2041.97 L347.47,2042.17 L348.30,2042.36 L349.13,2042.54 L349.96,2042.72 L350.79,2042.88 L351.62,2043.05 L352.45,2043.20 L353.28,2043.35 L354.11,2043.50 L354.94,2043.64 L355.77,2043.77 L356.60,2043.90 L357.43,2044.02 L358.26,2044.15 L359.08,2044.26 L359.91,2044.38 L360.74,2044.49 L361.57,2044.59 L362.40,2044.70 L363.23,2044.80 L364.06,2044.90 L364.89,2044.99 L365.72,2045.09 L366.55,2045.18 L367.38,2045.27 L368.21,2045.36 L369.04,2045.45 L369.87,2045.54 L370.70,2045.62 L371.53,2045.71 L372.36,2045.79 L373.19,2045.87 L374.02,2045.95 L374.85,2046.03 L375.68,2046.11 L376.51,2046.19 L377.34,2046.27 L378.17,2046.35 L379.00,2046.43 L379.83,2046.50 L380.66,2046.58 L381.49,2046.66 L382.32,2046.74 L383.15,2046.81 L383.98,2046.89 L384.81,2046.97 L385.64,2047.04 L386.47,2047.12 L387.30,2047.20 L388.13,2047.27 L388.96,2047.35 L389.79,2047.43 L390.62,2047.51 L391.45,2047.59 L392.28,2047.66 L393.11,2047.74 L393.94,2047.82 L394.77,2047.90 L395.60,2047.98 L396.43,2048.06 L397.26,2048.14 L398.09,2048.22 L398.92,2048.30 L399.75,2048.38 L400.58,2048.46 L401.41,2048.54 L402.24,2048.62 L403.07,2048.70 L403.90,2048.79 L404.73,2048.87 L405.56,2048.95 L406.39,2049.03 L407.22,2049.12 L408.05,2049.20 L408.88,2049.29 L409.71,2049.37 L410.54,2049.45 L411.37,2049.54 L412.20,2049.62 L413.03,2049.71 L413.86,2049.79 L414.68,2049.88 L415.51,2049.97 L416.34,2050.05 L417.17,2050.14 L418.00,2050.22 L418.83,2050.31 L419.66,2050.40 L420.49,2050.49 L421.32,2050.57 L422.15,2050.66 L422.98,2050.75 L423.81,2050.84 L424.64,2050.92 L425.47,2051.01 L426.30,2051.10 L427.13,2051.19 L427.96,2051.28 L428.79,2051.37 L429.62,2051.46 L430.45,2051.55 L431.28,2051.64 L432.11,2051.73 L432.94,2051.81 L433.77,2051.90 L434.60,2051.99 L435.43,2052.08 L436.26,2052.17 L437.09,2052.26 L437.92,2052.35 L438.75,2052.45 L439.58,2052.54 L440.41,2052.63 L441.24,2052.72 L442.07,2052.81 L442.90,2052.90 L443.73,2052.99 L444.56,2053.08 L445.39,2053.17 L446.22,2053.26 L447.05,2053.35 L447.88,2053.44 L448.71,2053.53 L449.54,2053.63 L450.37,2053.72 L451.20,2053.81 L452.03,2053.90 L452.86,2053.99 L453.69,2054.08 L454.52,2054.17 L455.35,2054.26 L456.18,2054.35 L457.01,2054.45 L457.84,2054.54 L458.67,2054.63 L459.50,2054.72 L460.33,2054.81 L461.16,2054.90 L461.99,2054.99 L462.82,2055.09 L463.65,2055.18 L464.48,2055.27 L465.31,2055.36 L466.14,2055.45 L466.97,2055.54 L467.80,2055.63 L468.63,2055.72 L469.45,2055.82 L470.28,2055.91 L471.11,2056.00 L471.94,2056.09 L472.77,2056.18 L473.60,2056.27 L474.43,2056.36 L475.26,2056.45 L476.09,2056.54 L476.92,2056.64 L477.75,2056.73 L478.58,2056.82 L479.41,2056.91 L480.24,2057.00 L481.07,2057.09 L481.90,2057.18 L482.73,2057.27 L483.56,2057.36 L484.39,2057.45 L485.22,2057.54 L486.05,2057.63 L486.88,2057.72 L487.71,2057.80 L488.54,2057.89 L489.37,2057.98 L490.20,2058.07 L491.03,2058.16 L491.86,2058.25 L492.69,2058.33 L493.52,2058.42 L494.35,2058.51 L495.18,2058.60 L496.01,2058.68 L496.84,2058.77 L497.67,2058.86 L498.50,2058.94 L499.33,2059.03 L500.16,2059.11 L500.99,2059.20 L501.82,2059.29 L502.65,2059.37 L503.48,2059.45 L504.31,2059.54 L505.14,2059.62 L505.97,2059.71 L506.80,2059.79 L507.63,2059.88 L508.46,2059.96 L509.29,2060.04 L510.12,2060.12 L510.95,2060.21 L511.78,2060.29 L512.61,2060.37 L513.44,2060.45 L514.27,2060.54 L515.10,2060.62 L515.93,2060.70 L516.76,2060.78 L517.59,2060.86 L518.42,2060.94 L519.25,2061.02 L520.08,2061.10 L520.91,2061.18 L521.74,2061.27 L522.57,2061.35 L523.40,2061.43 L524.23,2061.51 L525.05,2061.59 L525.88,2061.67 L526.71,2061.75 L527.54,2061.82 L528.37,2061.90 L529.20,2061.98 L530.03,2062.06 L530.86,2062.14 L531.69,2062.22 L532.52,2062.30 L533.35,2062.38 L534.18,2062.46 L535.01,2062.54 L535.84,2062.62 L536.67,2062.69 L537.50,2062.77 L538.33,2062.85 L539.16,2062.93 L539.99,2063.01 L540.82,2063.09 L541.65,2063.17 L542.48,2063.24 L543.31,2063.32 L544.14,2063.40 L544.97,2063.48 L545.80,2063.56 L546.63,2063.63 L547.46,2063.71 L548.29,2063.79 L549.12,2063.87 L549.95,2063.94 L550.78,2064.02 L551.61,2064.10 L552.44,2064.18 L553.27,2064.25 L554.10,2064.33 L554.93,2064.41 L555.76,2064.48 L556.59,2064.56 L557.42,2064.64 L558.25,2064.71 L559.08,2064.79 L559.91,2064.86 L560.74,2064.94 L561.57,2065.02 L562.40,2065.09 L563.23,2065.16 L564.06,2065.24 L564.89,2065.31 L565.72,2065.39 L566.55,2065.46 L567.38,2065.53 L568.21,2065.61 L569.04,2065.68 L569.87,2065.75 L570.70,2065.83 L571.53,2065.90 L572.36,2065.97 L573.19,2066.04 L574.02,2066.11 L574.85,2066.18 L575.68,2066.25 L576.51,2066.32 L577.34,2066.39 L578.17,2066.46 L579.00,2066.53 L579.83,2066.60 L580.65,2066.67 L581.48,2066.74 L582.31,2066.80 L583.14,2066.87 L583.97,2066.94 L584.80,2067.01 L585.63,2067.07 L586.46,2067.14 L587.29,2067.20 L588.12,2067.27 L588.95,2067.33 L589.78,2067.40 L590.61,2067.46 L591.44,2067.53 L592.27,2067.59 L593.10,2067.65 L593.93,2067.72 L594.76,2067.78 L595.59,2067.84 L596.42,2067.91 L597.25,2067.97 L598.08,2068.03 L598.91,2068.09 L599.74,2068.15 L600.57,2068.21 L601.40,2068.27 L602.23,2068.33 L603.06,2068.39 L603.89,2068.45 L604.72,2068.51 L605.55,2068.57 L606.38,2068.63 L607.21,2068.68 L608.04,2068.74 L608.87,2068.80 L609.70,2068.86 L610.53,2068.91 L611.36,2068.97 L612.19,2069.02 L613.02,2069.08 L613.85,2069.14 L614.68,2069.19 L615.51,2069.25 L616.34,2069.30 L617.17,2069.35 L618.00,2069.41 L618.83,2069.46 L619.66,2069.51 L620.49,2069.57 L621.32,2069.62 L622.15,2069.67 L622.98,2069.72 L623.81,2069.77 L624.64,2069.83 L625.47,2069.88 L626.30,2069.93 L627.13,2069.98 L627.96,2070.03 L628.79,2070.08 L629.62,2070.13 L630.45,2070.18 L631.28,2070.23 L632.11,2070.27 L632.94,2070.32 L633.77,2070.37 L634.60,2070.42 L635.42,2070.46 L636.25,2070.51 L637.08,2070.56 L637.91,2070.60 L638.74,2070.65 L639.57,2070.70 L640.40,2070.74 L641.23,2070.79 L642.06,2070.83 L642.89,2070.88 L643.72,2070.92 L644.55,2070.96 L645.38,2071.01 L646.21,2071.05 L647.04,2071.09 L647.87,2071.13 L648.70,2071.18 L649.53,2071.22 L650.36,2071.26 L651.19,2071.30 L652.02,2071.34 L652.85,2071.38 L653.68,2071.42 L654.51,2071.46 L655.34,2071.50 L656.17,2071.54 L657.00,2071.58 L657.83,2071.62 L658.66,2071.66 L659.49,2071.69 L660.32,2071.73 L661.15,2071.77 L661.98,2071.80 L662.81,2071.84 L663.64,2071.88 L664.47,2071.91 L665.30,2071.95 L666.13,2071.98 L666.96,2072.02 L667.79,2072.05 L668.62,2072.09 L669.45,2072.12 L670.28,2072.16 L671.11,2072.19 L671.94,2072.22 L672.77,2072.26 L673.60,2072.29 L674.43,2072.32 L675.26,2072.35 L676.09,2072.38 L676.92,2072.42 L677.75,2072.45 L678.58,2072.48 L679.41,2072.51 L680.24,2072.54 L681.07,2072.57 L681.90,2072.60 L682.73,2072.63 L683.56,2072.66 L684.39,2072.69 L685.22,2072.71 L686.05,2072.74 L686.88,2072.77 L687.71,2072.80 L688.54,2072.83 L689.37,2072.85 L690.20,2072.88 L691.02,2072.91 L691.85,2072.93 L692.68,2072.96 L693.51,2072.98 L694.34,2073.01 L695.17,2073.03 L696.00,2073.06 L696.83,2073.08 L697.66,2073.11 L698.49,2073.13 L699.32,2073.16 L700.15,2073.18 L700.98,2073.20 L701.81,2073.23 L702.64,2073.25 L703.47,2073.27 L704.30,2073.30 L705.13,2073.32 L705.96,2073.34 L706.79,2073.36 L707.62,2073.38 L708.45,2073.40 L709.28,2073.42 L710.11,2073.45 L710.94,2073.47 L711.77,2073.49 L712.60,2073.51 L713.43,2073.53 L714.26,2073.54 L715.09,2073.56 L715.92,2073.58 L716.75,2073.60 L717.58,2073.62 L718.41,2073.64 L719.24,2073.66 L720.07,2073.67 L720.90,2073.69 L721.73,2073.71 L722.56,2073.73 L723.39,2073.74 L724.22,2073.76 L725.05,2073.77 L725.88,2073.79 L726.71,2073.81 L727.54,2073.82 L728.37,2073.84 L729.20,2073.85 L730.03,2073.86 L730.86,2073.88 L731.69,2073.89 L732.52,2073.91 L733.35,2073.92 L734.18,2073.93 L735.01,2073.94 L735.84,2073.96 L736.67,2073.97 L737.50,2073.98 L738.33,2073.99 L739.16,2074.00 L739.99,2074.02 L740.82,2074.03 L741.65,2074.04 L742.48,2074.05 L743.31,2074.06 L744.14,2074.07 L744.97,2074.08 L745.79,2074.09 L746.62,2074.10 L747.45,2074.11 L748.28,2074.12 L749.11,2074.12 L749.94,2074.13 L750.77,2074.14 L751.60,2074.15 L752.43,2074.16 L753.26,2074.17 L754.09,2074.17 L754.92,2074.18 L755.75,2074.19 L756.58,2074.20 L757.41,2074.20 L758.24,2074.21 L759.07,2074.22 L759.90,2074.22 L760.73,2074.23 L761.56,2074.23 L762.39,2074.24 L763.22,2074.25 L764.05,2074.25 L764.88,2074.26 L765.71,2074.26 L766.54,2074.27 L767.37,2074.27 L768.20,2074.28 L769.03,2074.28 L769.86,2074.29 L770.69,2074.29 L771.52,2074.29 L772.35,2074.30 L773.18,2074.30 L774.01,2074.30 L774.84,2074.31 L775.67,2074.31 L776.50,2074.31 L777.33,2074.32 L778.16,2074.32 L778.99,2074.32 L779.82,2074.32 L780.65,2074.33 L781.48,2074.33 L782.31,2074.33 L783.14,2074.33 L783.97,2074.33 L784.80,2074.34 L785.63,2074.34 L786.46,2074.34 L787.29,2074.34 L788.12,2074.34 L788.95,2074.34 L789.78,2074.34 L790.61,2074.35 L791.44,2074.35 L792.27,2074.35 L793.10,2074.35 L793.93,2074.35 L794.76,2074.35 L795.59,2074.35 L796.42,2074.35 L797.25,2074.35 L798.08,2074.35 L798.91,2074.35 L799.74,2074.36 L800.57,2074.36 L801.39,2074.36 L802.22,2074.36 L803.05,2074.36 L803.88,2074.36 L804.71,2074.36 L805.54,2074.36 L806.37,2074.36 L807.20,2074.36 L808.03,2074.36 L808.86,2074.36 L809.69,2074.36 L810.52,2074.36 L811.35,2074.36 L812.18,2074.37 L813.01,2074.37 L813.84,2074.37 L814.67,2074.37 L815.50,2074.37 L816.33,2074.37 L817.16,2074.37 L817.99,2074.37 L818.82,2074.37 L819.65,2074.37 L820.48,2074.37 L821.31,2074.37 L822.14,2074.37 L822.97,2074.37 L823.80,2074.37 L824.63,2074.37 L825.46,2074.37 L826.29,2074.37 L827.12,2074.37 L827.95,2074.37 L828.78,2074.38 L829.61,2074.38 L830.44,2074.38 L831.27,2074.38 L832.10,2074.38 L832.93,2074.38 L833.76,2074.38 L834.59,2074.38 L835.42,2074.38 L836.25,2074.38 L837.08,2074.38 L837.91,2074.38 L838.74,2074.38 L839.57,2074.38 L840.40,2074.38 L841.23,2074.38 L842.06,2074.38 L842.89,2074.38 L843.72,2074.38 L844.55,2074.38 L845.38,2074.38 L846.21,2074.38 L847.04,2074.38 L847.87,2074.38 L848.70,2074.38 L849.53,2074.38 L850.36,2074.39 L851.19,2074.39 L852.02,2074.39 L852.85,2074.39 L853.68,2074.39 L854.51,2074.39 L855.34,2074.39 L856.17,2074.39 L856.99,2074.39 L857.82,2074.39 L858.65,2074.39 L859.48,2074.39 L860.31,2074.39 L861.14,2074.39 L861.97,2074.39 L862.80,2074.39 L863.63,2074.39 L864.46,2074.39 L865.29,2074.39 L866.12,2074.39 L866.95,2074.39 L867.78,2074.39 L868.61,2074.39 L869.44,2074.39 L870.27,2074.39 L871.10,2074.39 L871.93,2074.39 L872.76,2074.39 L873.59,2074.39 L874.42,2074.39 L875.25,2074.39 L876.08,2074.39 L876.91,2074.39 L877.74,2074.39 L878.57,2074.39 L879.40,2074.39 L880.23,2074.39 L881.06,2074.39 L881.89,2074.39 L882.72,2074.40 L883.55,2074.40 L884.38,2074.40 L885.21,2074.40 L886.04,2074.40 L886.87,2074.40 L887.70,2074.40 L888.53,2074.40 L889.36,2074.40 L890.19,2074.40 L891.02,2074.40 L891.85,2074.40 L892.68,2074.40 L893.51,2074.40 L894.34,2074.40 L895.17,2074.40 L896.00,2074.40 L896.83,2074.40 L897.66,2074.40 L898.49,2074.40 L899.32,2074.40 L900.15,2074.40 L900.98,2074.40 L901.81,2074.40 L902.64,2074.40 L903.47,2074.40 L904.30,2074.40 L905.13,2074.40 L905.96,2074.40 L906.79,2074.40 L907.62,2074.40 L908.45,2074.40 L909.28,2074.40 L910.11,2074.40 L910.94,2074.40 L911.76,2074.40 L912.59,2074.40 L913.42,2074.40 L914.25,2074.40 L915.08,2074.40 L915.91,2074.40 L916.74,2074.40 L917.57,2074.40 L918.40,2074.40 L919.23,2074.40 L920.06,2074.40 L920.89,2074.40 L921.72,2074.40 L922.55,2074.40 L923.38,2074.40 L924.21,2074.40 L925.04,2074.40 L925.87,2074.40 L926.70,2074.40 L927.53,2074.40 L928.36,2074.40" fill="none" stroke="#008000" stroke-width="6.0" stroke-linecap="square" stroke-linejoin="round"/>
<path d="M231.29,1710.91 L928.36,1710.91" fill="none" stroke="#ff0000" stroke-width="6.0" stroke-linecap="square" stroke-linejoin="round"/>
<path d="M231.29,1781.19 L238.26,2074.40 L928.36,2074.40" fill="none" stroke="#ffa500" stroke-width="8.5" stroke-linecap="square" stroke-linejoin="round"/>
</g>
<text transform="translate(208.30,1837.85) rotate(-90)" text-anchor="middle" font-size="31.7" fill="#fff">cathode</text>
<text transform="translate(971.35,1840.55) rotate(-90)" text-anchor="middle" font-size="31.7" fill="#fff">anode</text>
<rect x="164.90" y="1589.75" width="829.85" height="484.65" fill="none" stroke="#202020" stroke-width="1.9"/>
<line x1="231.29" x2="231.29" y1="2074.40" y2="2082.30" stroke="#202020" stroke-width="1.9"/>
<line x1="397.26" x2="397.26" y1="2074.40" y2="2082.30" stroke="#202020" stroke-width="1.9"/>
<line x1="563.23" x2="563.23" y1="2074.40" y2="2082.30" stroke="#202020" stroke-width="1.9"/>
<line x1="729.20" x2="729.20" y1="2074.40" y2="2082.30" stroke="#202020" stroke-width="1.9"/>
<line x1="895.17" x2="895.17" y1="2074.40" y2="2082.30" stroke="#202020" stroke-width="1.9"/>
<line x1="157.00" x2="164.90" y1="2074.40" y2="2074.40" stroke="#202020" stroke-width="1.9"/>
<text x="150.10" y="2085.90" text-anchor="end" font-size="32.2" fill="#000">0</text>
<line x1="157.00" x2="164.90" y1="1953.24" y2="1953.24" stroke="#202020" stroke-width="1.9"/>
<text x="150.10" y="1964.74" text-anchor="end" font-size="32.2" fill="#000">1</text>
<line x1="157.00" x2="164.90" y1="1832.08" y2="1832.08" stroke="#202020" stroke-width="1.9"/>
<text x="150.10" y="1843.58" text-anchor="end" font-size="32.2" fill="#000">2</text>
<line x1="157.00" x2="164.90" y1="1710.91" y2="1710.91" stroke="#202020" stroke-width="1.9"/>
<text x="150.10" y="1722.41" text-anchor="end" font-size="32.2" fill="#000">3</text>
<line x1="157.00" x2="164.90" y1="1589.75" y2="1589.75" stroke="#202020" stroke-width="1.9"/>
<text x="150.10" y="1601.25" text-anchor="end" font-size="32.2" fill="#000">4</text>
<text transform="translate(114.50,1832.08) rotate(-90)" text-anchor="middle" font-size="35.6" fill="#000">c (M)</text>
<g id="tb3"><rect x="354.90" y="1614.35" width="180.40" height="44.20" rx="7" ry="7" fill="#f5deb3" fill-opacity="0.5" stroke="#000" stroke-opacity="0.5" stroke-width="1.7"/>
<text x="363.60" y="1644.95" font-size="27.9" fill="#000">time = 10 s</text></g>
<g font-family='"Liberation Sans",sans-serif' font-weight="bold" font-size="48.5" fill="#000" clip-path="url(#clipD)"><text transform="translate(5.9,1620.0) scale(0.913,1)">D</text><text transform="translate(40.2,1618.0) scale(0.875,0.985)">)</text></g>
<text x="231.29" y="2112.50" text-anchor="middle" font-size="32.2" fill="#000">0</text>
<text x="397.26" y="2112.50" text-anchor="middle" font-size="32.2" fill="#000">100</text>
<text x="563.23" y="2112.50" text-anchor="middle" font-size="32.2" fill="#000">200</text>
<text x="729.20" y="2112.50" text-anchor="middle" font-size="32.2" fill="#000">300</text>
<text x="895.17" y="2112.50" text-anchor="middle" font-size="32.2" fill="#000">400</text>
<text x="579.83" y="2156.40" text-anchor="middle" font-size="35.6" fill="#000">distance × tortuosity (µm)</text>
<g id="legend"><rect x="330.5" y="245.5" width="183" height="156.5" rx="5" ry="5" fill="#fff" fill-opacity="0.8" stroke="#d2d2d2" stroke-width="1.6"/>
<line x1="338.2" x2="395.4" y1="265.60" y2="265.60" stroke="#0000ff" stroke-width="5.7"/>
<text x="413.3" y="274.70" font-size="24.8" fill="#000" style="font-kerning:none;letter-spacing:0px">H⁺</text>
<line x1="338.2" x2="395.4" y1="303.10" y2="303.10" stroke="#008000" stroke-width="5.7"/>
<text x="413.3" y="312.20" font-size="24.8" fill="#000" style="font-kerning:none;letter-spacing:0.4px">Na⁺</text>
<line x1="338.2" x2="395.4" y1="340.60" y2="340.60" stroke="#ff0000" stroke-width="5.7"/>
<text y="349.70" font-size="24.8" fill="#000" style="font-kerning:none"><tspan x="413.2 431.8 440.4 457.4">R-SO</tspan><tspan x="477.3" font-size="17.4" dy="4.8">3</tspan><tspan x="489.9" dy="-4.8">⁻</tspan></text>
<line x1="338.2" x2="395.4" y1="378.10" y2="378.10" stroke="#ffa500" stroke-width="8.5"/>
<text x="412.7" y="387.20" font-size="24.8" fill="#000" style="font-kerning:none;letter-spacing:1.2px">OH⁻</text>
</g>
</svg>
</body></html>
